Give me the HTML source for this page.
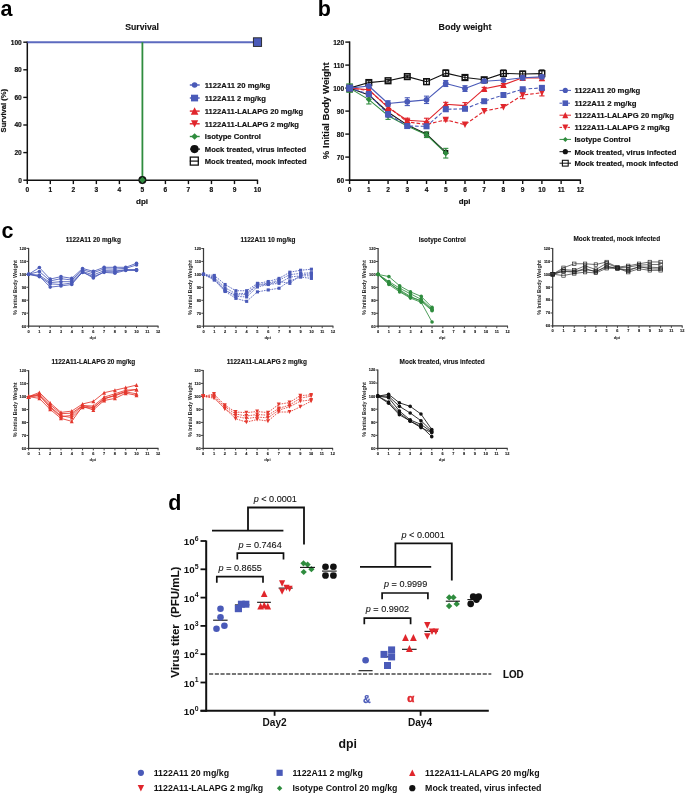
<!DOCTYPE html>
<html><head><meta charset="utf-8"><style>
html,body{margin:0;padding:0;background:#fff;}
svg{display:block;font-family:"Liberation Sans",sans-serif;will-change:transform;}
</style></head><body>
<svg width="685" height="794" viewBox="0 0 685 794">
<rect width="685" height="794" fill="#fff"/>
<text x="0.45" y="15.8" font-size="21.5" font-weight="bold" fill="#000">a</text>
<text x="317.75" y="15.8" font-size="21.5" font-weight="bold" fill="#000">b</text>
<text x="1.45" y="237.9" font-size="21.5" font-weight="bold" fill="#000">c</text>
<text x="168.35" y="510.2" font-size="21.5" font-weight="bold" fill="#000">d</text>
<text x="142.10" y="29.84" font-size="9.0" text-anchor="middle" font-weight="bold" fill="#111" stroke="#111" stroke-width="0.12" textLength="33.80" lengthAdjust="spacingAndGlyphs" style="">Survival</text>
<line x1="23.30" y1="180.20" x2="27.30" y2="180.20" stroke="#111" stroke-width="1.4" />
<text x="21.80" y="182.58" font-size="6.6" text-anchor="end" font-weight="bold" fill="#111" stroke="#111" stroke-width="0.18" style="">0</text>
<line x1="23.30" y1="152.60" x2="27.30" y2="152.60" stroke="#111" stroke-width="1.4" />
<text x="21.80" y="154.98" font-size="6.6" text-anchor="end" font-weight="bold" fill="#111" stroke="#111" stroke-width="0.18" style="">20</text>
<line x1="23.30" y1="125.00" x2="27.30" y2="125.00" stroke="#111" stroke-width="1.4" />
<text x="21.80" y="127.38" font-size="6.6" text-anchor="end" font-weight="bold" fill="#111" stroke="#111" stroke-width="0.18" style="">40</text>
<line x1="23.30" y1="97.40" x2="27.30" y2="97.40" stroke="#111" stroke-width="1.4" />
<text x="21.80" y="99.78" font-size="6.6" text-anchor="end" font-weight="bold" fill="#111" stroke="#111" stroke-width="0.18" style="">60</text>
<line x1="23.30" y1="69.80" x2="27.30" y2="69.80" stroke="#111" stroke-width="1.4" />
<text x="21.80" y="72.18" font-size="6.6" text-anchor="end" font-weight="bold" fill="#111" stroke="#111" stroke-width="0.18" style="">80</text>
<line x1="23.30" y1="42.20" x2="27.30" y2="42.20" stroke="#111" stroke-width="1.4" />
<text x="21.80" y="44.58" font-size="6.6" text-anchor="end" font-weight="bold" fill="#111" stroke="#111" stroke-width="0.18" style="">100</text>
<line x1="27.30" y1="180.20" x2="27.30" y2="184.10" stroke="#111" stroke-width="1.4" />
<text x="27.30" y="191.98" font-size="6.6" text-anchor="middle" font-weight="bold" fill="#111" stroke="#111" stroke-width="0.18" style="">0</text>
<line x1="50.32" y1="180.20" x2="50.32" y2="184.10" stroke="#111" stroke-width="1.4" />
<text x="50.32" y="191.98" font-size="6.6" text-anchor="middle" font-weight="bold" fill="#111" stroke="#111" stroke-width="0.18" style="">1</text>
<line x1="73.34" y1="180.20" x2="73.34" y2="184.10" stroke="#111" stroke-width="1.4" />
<text x="73.34" y="191.98" font-size="6.6" text-anchor="middle" font-weight="bold" fill="#111" stroke="#111" stroke-width="0.18" style="">2</text>
<line x1="96.36" y1="180.20" x2="96.36" y2="184.10" stroke="#111" stroke-width="1.4" />
<text x="96.36" y="191.98" font-size="6.6" text-anchor="middle" font-weight="bold" fill="#111" stroke="#111" stroke-width="0.18" style="">3</text>
<line x1="119.38" y1="180.20" x2="119.38" y2="184.10" stroke="#111" stroke-width="1.4" />
<text x="119.38" y="191.98" font-size="6.6" text-anchor="middle" font-weight="bold" fill="#111" stroke="#111" stroke-width="0.18" style="">4</text>
<line x1="142.40" y1="180.20" x2="142.40" y2="184.10" stroke="#111" stroke-width="1.4" />
<text x="142.40" y="191.98" font-size="6.6" text-anchor="middle" font-weight="bold" fill="#111" stroke="#111" stroke-width="0.18" style="">5</text>
<line x1="165.42" y1="180.20" x2="165.42" y2="184.10" stroke="#111" stroke-width="1.4" />
<text x="165.42" y="191.98" font-size="6.6" text-anchor="middle" font-weight="bold" fill="#111" stroke="#111" stroke-width="0.18" style="">6</text>
<line x1="188.44" y1="180.20" x2="188.44" y2="184.10" stroke="#111" stroke-width="1.4" />
<text x="188.44" y="191.98" font-size="6.6" text-anchor="middle" font-weight="bold" fill="#111" stroke="#111" stroke-width="0.18" style="">7</text>
<line x1="211.46" y1="180.20" x2="211.46" y2="184.10" stroke="#111" stroke-width="1.4" />
<text x="211.46" y="191.98" font-size="6.6" text-anchor="middle" font-weight="bold" fill="#111" stroke="#111" stroke-width="0.18" style="">8</text>
<line x1="234.48" y1="180.20" x2="234.48" y2="184.10" stroke="#111" stroke-width="1.4" />
<text x="234.48" y="191.98" font-size="6.6" text-anchor="middle" font-weight="bold" fill="#111" stroke="#111" stroke-width="0.18" style="">9</text>
<line x1="257.50" y1="180.20" x2="257.50" y2="184.10" stroke="#111" stroke-width="1.4" />
<text x="257.50" y="191.98" font-size="6.6" text-anchor="middle" font-weight="bold" fill="#111" stroke="#111" stroke-width="0.18" style="">10</text>
<text x="142.10" y="204.18" font-size="8.0" text-anchor="middle" font-weight="bold" fill="#111" stroke="#111" stroke-width="0.2" style="">dpi</text>
<text x="3.50" y="113.44" font-size="7.6" text-anchor="middle" font-weight="bold" fill="#111" transform="rotate(-90 3.50 110.70)" stroke="#111" stroke-width="0.2" style="">Survival (%)</text>
<line x1="27.30" y1="41.50" x2="27.30" y2="180.90" stroke="#111" stroke-width="1.5" />
<line x1="26.60" y1="180.20" x2="258.10" y2="180.20" stroke="#111" stroke-width="1.6" />
<line x1="27.30" y1="42.20" x2="257.50" y2="42.20" stroke="#4a5ab8" stroke-width="1.9" stroke-opacity="0.9"/>
<line x1="142.40" y1="42.20" x2="142.40" y2="180.20" stroke="#2f8c3e" stroke-width="1.8" />
<circle cx="142.40" cy="180.00" r="4.00" fill="#111"/>
<polygon points="142.40,176.80 145.60,180.00 142.40,183.20 139.20,180.00" fill="#2f8c3e"/>
<rect x="253.40" y="37.80" width="8.2" height="8.6" fill="#4a5ab8" stroke="#222" stroke-width="0.9"/>
<line x1="189.80" y1="85.00" x2="199.70" y2="85.00" stroke="#4a5ab8" stroke-width="1.4" />
<circle cx="194.60" cy="85.00" r="2.80" fill="#4a5ab8"/>
<text x="204.80" y="87.88" font-size="8.0" text-anchor="start" font-weight="bold" fill="#111" stroke="#111" stroke-width="0.18" textLength="65.40" lengthAdjust="spacingAndGlyphs" style="">1122A11 20 mg/kg</text>
<line x1="189.80" y1="98.00" x2="199.70" y2="98.00" stroke="#4a5ab8" stroke-width="1.4" />
<rect x="191.00" y="94.70" width="7.1" height="6.7" fill="#4a5ab8"/>
<text x="204.80" y="100.88" font-size="8.0" text-anchor="start" font-weight="bold" fill="#111" stroke="#111" stroke-width="0.18" textLength="61.10" lengthAdjust="spacingAndGlyphs" style="">1122A11 2 mg/kg</text>
<line x1="189.80" y1="111.10" x2="199.70" y2="111.10" stroke="#e0262c" stroke-width="1.4" />
<polygon points="194.6,107.20 198.4,114.80 190.8,114.80" fill="#e0262c"/>
<text x="204.80" y="113.98" font-size="8.0" text-anchor="start" font-weight="bold" fill="#111" stroke="#111" stroke-width="0.18" textLength="98.30" lengthAdjust="spacingAndGlyphs" style="">1122A11-LALAPG 20 mg/kg</text>
<line x1="189.80" y1="123.80" x2="199.70" y2="123.80" stroke="#e0262c" stroke-width="1.4" />
<polygon points="194.6,127.40 198.2,120.30 191.0,120.30" fill="#e0262c"/>
<text x="204.80" y="126.68" font-size="8.0" text-anchor="start" font-weight="bold" fill="#111" stroke="#111" stroke-width="0.18" textLength="94.20" lengthAdjust="spacingAndGlyphs" style="">1122A11-LALAPG 2 mg/kg</text>
<line x1="189.80" y1="136.50" x2="199.70" y2="136.50" stroke="#2f8c3e" stroke-width="1.4" />
<polygon points="194.60,133.20 197.90,136.50 194.60,139.80 191.30,136.50" fill="#2f8c3e"/>
<text x="204.80" y="139.38" font-size="8.0" text-anchor="start" font-weight="bold" fill="#111" stroke="#111" stroke-width="0.18" textLength="56.20" lengthAdjust="spacingAndGlyphs" style="">Isotype Control</text>
<line x1="190.00" y1="149.10" x2="200.00" y2="149.10" stroke="#111" stroke-width="1.2" />
<circle cx="194.50" cy="149.10" r="4.10" fill="#111"/>
<text x="204.80" y="151.98" font-size="8.0" text-anchor="start" font-weight="bold" fill="#111" stroke="#111" stroke-width="0.18" textLength="101.30" lengthAdjust="spacingAndGlyphs" style="">Mock treated, virus infected</text>
<rect x="190.30" y="157.10" width="8.0" height="8.0" fill="#fff" stroke="#111" stroke-width="1.3"/>
<line x1="189.80" y1="161.10" x2="198.80" y2="161.10" stroke="#111" stroke-width="1.2" />
<text x="204.80" y="163.98" font-size="8.0" text-anchor="start" font-weight="bold" fill="#111" stroke="#111" stroke-width="0.18" textLength="101.90" lengthAdjust="spacingAndGlyphs" style="">Mock treated, mock infected</text>
<text x="465.00" y="30.20" font-size="8.9" text-anchor="middle" font-weight="bold" fill="#111" stroke="#111" stroke-width="0.12" style="">Body weight</text>
<line x1="345.30" y1="180.10" x2="349.60" y2="180.10" stroke="#111" stroke-width="1.4" />
<text x="344.20" y="182.88" font-size="6.6" text-anchor="end" font-weight="bold" fill="#111" stroke="#111" stroke-width="0.18" style="">60</text>
<line x1="345.30" y1="157.10" x2="349.60" y2="157.10" stroke="#111" stroke-width="1.4" />
<text x="344.20" y="159.88" font-size="6.6" text-anchor="end" font-weight="bold" fill="#111" stroke="#111" stroke-width="0.18" style="">70</text>
<line x1="345.30" y1="134.10" x2="349.60" y2="134.10" stroke="#111" stroke-width="1.4" />
<text x="344.20" y="136.88" font-size="6.6" text-anchor="end" font-weight="bold" fill="#111" stroke="#111" stroke-width="0.18" style="">80</text>
<line x1="345.30" y1="111.10" x2="349.60" y2="111.10" stroke="#111" stroke-width="1.4" />
<text x="344.20" y="113.88" font-size="6.6" text-anchor="end" font-weight="bold" fill="#111" stroke="#111" stroke-width="0.18" style="">90</text>
<line x1="345.30" y1="88.10" x2="349.60" y2="88.10" stroke="#111" stroke-width="1.4" />
<text x="344.20" y="90.88" font-size="6.6" text-anchor="end" font-weight="bold" fill="#111" stroke="#111" stroke-width="0.18" style="">100</text>
<line x1="345.30" y1="65.10" x2="349.60" y2="65.10" stroke="#111" stroke-width="1.4" />
<text x="344.20" y="67.88" font-size="6.6" text-anchor="end" font-weight="bold" fill="#111" stroke="#111" stroke-width="0.18" style="">110</text>
<line x1="345.30" y1="42.10" x2="349.60" y2="42.10" stroke="#111" stroke-width="1.4" />
<text x="344.20" y="44.88" font-size="6.6" text-anchor="end" font-weight="bold" fill="#111" stroke="#111" stroke-width="0.18" style="">120</text>
<line x1="349.60" y1="180.10" x2="349.60" y2="184.00" stroke="#111" stroke-width="1.4" />
<text x="349.60" y="191.88" font-size="6.6" text-anchor="middle" font-weight="bold" fill="#111" stroke="#111" stroke-width="0.18" style="">0</text>
<line x1="368.83" y1="180.10" x2="368.83" y2="184.00" stroke="#111" stroke-width="1.4" />
<text x="368.83" y="191.88" font-size="6.6" text-anchor="middle" font-weight="bold" fill="#111" stroke="#111" stroke-width="0.18" style="">1</text>
<line x1="388.06" y1="180.10" x2="388.06" y2="184.00" stroke="#111" stroke-width="1.4" />
<text x="388.06" y="191.88" font-size="6.6" text-anchor="middle" font-weight="bold" fill="#111" stroke="#111" stroke-width="0.18" style="">2</text>
<line x1="407.29" y1="180.10" x2="407.29" y2="184.00" stroke="#111" stroke-width="1.4" />
<text x="407.29" y="191.88" font-size="6.6" text-anchor="middle" font-weight="bold" fill="#111" stroke="#111" stroke-width="0.18" style="">3</text>
<line x1="426.52" y1="180.10" x2="426.52" y2="184.00" stroke="#111" stroke-width="1.4" />
<text x="426.52" y="191.88" font-size="6.6" text-anchor="middle" font-weight="bold" fill="#111" stroke="#111" stroke-width="0.18" style="">4</text>
<line x1="445.75" y1="180.10" x2="445.75" y2="184.00" stroke="#111" stroke-width="1.4" />
<text x="445.75" y="191.88" font-size="6.6" text-anchor="middle" font-weight="bold" fill="#111" stroke="#111" stroke-width="0.18" style="">5</text>
<line x1="464.98" y1="180.10" x2="464.98" y2="184.00" stroke="#111" stroke-width="1.4" />
<text x="464.98" y="191.88" font-size="6.6" text-anchor="middle" font-weight="bold" fill="#111" stroke="#111" stroke-width="0.18" style="">6</text>
<line x1="484.21" y1="180.10" x2="484.21" y2="184.00" stroke="#111" stroke-width="1.4" />
<text x="484.21" y="191.88" font-size="6.6" text-anchor="middle" font-weight="bold" fill="#111" stroke="#111" stroke-width="0.18" style="">7</text>
<line x1="503.44" y1="180.10" x2="503.44" y2="184.00" stroke="#111" stroke-width="1.4" />
<text x="503.44" y="191.88" font-size="6.6" text-anchor="middle" font-weight="bold" fill="#111" stroke="#111" stroke-width="0.18" style="">8</text>
<line x1="522.67" y1="180.10" x2="522.67" y2="184.00" stroke="#111" stroke-width="1.4" />
<text x="522.67" y="191.88" font-size="6.6" text-anchor="middle" font-weight="bold" fill="#111" stroke="#111" stroke-width="0.18" style="">9</text>
<line x1="541.90" y1="180.10" x2="541.90" y2="184.00" stroke="#111" stroke-width="1.4" />
<text x="541.90" y="191.88" font-size="6.6" text-anchor="middle" font-weight="bold" fill="#111" stroke="#111" stroke-width="0.18" style="">10</text>
<line x1="561.13" y1="180.10" x2="561.13" y2="184.00" stroke="#111" stroke-width="1.4" />
<text x="561.13" y="191.88" font-size="6.6" text-anchor="middle" font-weight="bold" fill="#111" stroke="#111" stroke-width="0.18" style="">11</text>
<line x1="580.36" y1="180.10" x2="580.36" y2="184.00" stroke="#111" stroke-width="1.4" />
<text x="580.36" y="191.88" font-size="6.6" text-anchor="middle" font-weight="bold" fill="#111" stroke="#111" stroke-width="0.18" style="">12</text>
<text x="464.60" y="204.14" font-size="7.9" text-anchor="middle" font-weight="bold" fill="#111" stroke="#111" stroke-width="0.2" style="">dpi</text>
<text x="325.60" y="114.14" font-size="9.55" text-anchor="middle" font-weight="bold" fill="#111" transform="rotate(-90 325.60 110.70)" stroke="#111" stroke-width="0.12" style="">% Initial Body Weight</text>
<line x1="349.60" y1="41.40" x2="349.60" y2="180.80" stroke="#111" stroke-width="1.5" />
<line x1="348.90" y1="180.10" x2="580.96" y2="180.10" stroke="#111" stroke-width="1.6" />
<polyline points="349.60,88.10 368.83,82.58 388.06,80.74 407.29,76.60 426.52,81.66 445.75,73.15 464.98,77.52 484.21,79.82 503.44,73.38 522.67,74.07 541.90,73.61" fill="none" stroke="#111" stroke-width="1.1" stroke-linejoin="round"/>
<rect x="346.80" y="85.20" width="5.6" height="5.8" fill="none" stroke="#111" stroke-width="1.45"/>
<line x1="368.83" y1="80.74" x2="368.83" y2="84.42" stroke="#111" stroke-width="1.1" />
<line x1="366.23" y1="80.74" x2="371.43" y2="80.74" stroke="#111" stroke-width="1.1" />
<line x1="366.23" y1="84.42" x2="371.43" y2="84.42" stroke="#111" stroke-width="1.1" />
<rect x="366.03" y="79.68" width="5.6" height="5.8" fill="none" stroke="#111" stroke-width="1.45"/>
<line x1="388.06" y1="79.36" x2="388.06" y2="82.12" stroke="#111" stroke-width="1.1" />
<line x1="385.46" y1="79.36" x2="390.66" y2="79.36" stroke="#111" stroke-width="1.1" />
<line x1="385.46" y1="82.12" x2="390.66" y2="82.12" stroke="#111" stroke-width="1.1" />
<rect x="385.26" y="77.84" width="5.6" height="5.8" fill="none" stroke="#111" stroke-width="1.45"/>
<line x1="407.29" y1="75.22" x2="407.29" y2="77.98" stroke="#111" stroke-width="1.1" />
<line x1="404.69" y1="75.22" x2="409.89" y2="75.22" stroke="#111" stroke-width="1.1" />
<line x1="404.69" y1="77.98" x2="409.89" y2="77.98" stroke="#111" stroke-width="1.1" />
<rect x="404.49" y="73.70" width="5.6" height="5.8" fill="none" stroke="#111" stroke-width="1.45"/>
<line x1="426.52" y1="78.78" x2="426.52" y2="84.53" stroke="#111" stroke-width="1.1" />
<line x1="423.92" y1="78.78" x2="429.12" y2="78.78" stroke="#111" stroke-width="1.1" />
<line x1="423.92" y1="84.53" x2="429.12" y2="84.53" stroke="#111" stroke-width="1.1" />
<rect x="423.72" y="78.76" width="5.6" height="5.8" fill="none" stroke="#111" stroke-width="1.45"/>
<line x1="445.75" y1="69.93" x2="445.75" y2="76.37" stroke="#111" stroke-width="1.1" />
<line x1="443.15" y1="69.93" x2="448.35" y2="69.93" stroke="#111" stroke-width="1.1" />
<line x1="443.15" y1="76.37" x2="448.35" y2="76.37" stroke="#111" stroke-width="1.1" />
<rect x="442.95" y="70.25" width="5.6" height="5.8" fill="none" stroke="#111" stroke-width="1.45"/>
<line x1="464.98" y1="75.45" x2="464.98" y2="79.59" stroke="#111" stroke-width="1.1" />
<line x1="462.38" y1="75.45" x2="467.58" y2="75.45" stroke="#111" stroke-width="1.1" />
<line x1="462.38" y1="79.59" x2="467.58" y2="79.59" stroke="#111" stroke-width="1.1" />
<rect x="462.18" y="74.62" width="5.6" height="5.8" fill="none" stroke="#111" stroke-width="1.45"/>
<line x1="484.21" y1="77.52" x2="484.21" y2="82.12" stroke="#111" stroke-width="1.1" />
<line x1="481.61" y1="77.52" x2="486.81" y2="77.52" stroke="#111" stroke-width="1.1" />
<line x1="481.61" y1="82.12" x2="486.81" y2="82.12" stroke="#111" stroke-width="1.1" />
<rect x="481.41" y="76.92" width="5.6" height="5.8" fill="none" stroke="#111" stroke-width="1.45"/>
<line x1="503.44" y1="70.04" x2="503.44" y2="76.71" stroke="#111" stroke-width="1.1" />
<line x1="500.84" y1="70.04" x2="506.04" y2="70.04" stroke="#111" stroke-width="1.1" />
<line x1="500.84" y1="76.71" x2="506.04" y2="76.71" stroke="#111" stroke-width="1.1" />
<rect x="500.64" y="70.48" width="5.6" height="5.8" fill="none" stroke="#111" stroke-width="1.45"/>
<line x1="522.67" y1="71.20" x2="522.67" y2="76.95" stroke="#111" stroke-width="1.1" />
<line x1="520.07" y1="71.20" x2="525.27" y2="71.20" stroke="#111" stroke-width="1.1" />
<line x1="520.07" y1="76.95" x2="525.27" y2="76.95" stroke="#111" stroke-width="1.1" />
<rect x="519.87" y="71.17" width="5.6" height="5.8" fill="none" stroke="#111" stroke-width="1.45"/>
<line x1="541.90" y1="69.93" x2="541.90" y2="77.29" stroke="#111" stroke-width="1.1" />
<line x1="539.30" y1="69.93" x2="544.50" y2="69.93" stroke="#111" stroke-width="1.1" />
<line x1="539.30" y1="77.29" x2="544.50" y2="77.29" stroke="#111" stroke-width="1.1" />
<rect x="539.10" y="70.71" width="5.6" height="5.8" fill="none" stroke="#111" stroke-width="1.45"/>
<polyline points="349.60,88.10 368.83,95.00 388.06,112.25 407.29,124.90 426.52,134.10 445.75,152.04" fill="none" stroke="#111" stroke-width="1.1" stroke-linejoin="round"/>
<circle cx="349.60" cy="88.10" r="2.60" fill="#111"/>
<line x1="368.83" y1="93.39" x2="368.83" y2="96.61" stroke="#111" stroke-width="1.1" />
<line x1="366.23" y1="93.39" x2="371.43" y2="93.39" stroke="#111" stroke-width="1.1" />
<line x1="366.23" y1="96.61" x2="371.43" y2="96.61" stroke="#111" stroke-width="1.1" />
<circle cx="368.83" cy="95.00" r="2.60" fill="#111"/>
<line x1="388.06" y1="110.41" x2="388.06" y2="114.09" stroke="#111" stroke-width="1.1" />
<line x1="385.46" y1="110.41" x2="390.66" y2="110.41" stroke="#111" stroke-width="1.1" />
<line x1="385.46" y1="114.09" x2="390.66" y2="114.09" stroke="#111" stroke-width="1.1" />
<circle cx="388.06" cy="112.25" r="2.60" fill="#111"/>
<line x1="407.29" y1="123.52" x2="407.29" y2="126.28" stroke="#111" stroke-width="1.1" />
<line x1="404.69" y1="123.52" x2="409.89" y2="123.52" stroke="#111" stroke-width="1.1" />
<line x1="404.69" y1="126.28" x2="409.89" y2="126.28" stroke="#111" stroke-width="1.1" />
<circle cx="407.29" cy="124.90" r="2.60" fill="#111"/>
<line x1="426.52" y1="132.26" x2="426.52" y2="135.94" stroke="#111" stroke-width="1.1" />
<line x1="423.92" y1="132.26" x2="429.12" y2="132.26" stroke="#111" stroke-width="1.1" />
<line x1="423.92" y1="135.94" x2="429.12" y2="135.94" stroke="#111" stroke-width="1.1" />
<circle cx="426.52" cy="134.10" r="2.60" fill="#111"/>
<line x1="445.75" y1="150.66" x2="445.75" y2="153.42" stroke="#111" stroke-width="1.1" />
<line x1="443.15" y1="150.66" x2="448.35" y2="150.66" stroke="#111" stroke-width="1.1" />
<line x1="443.15" y1="153.42" x2="448.35" y2="153.42" stroke="#111" stroke-width="1.1" />
<circle cx="445.75" cy="152.04" r="2.60" fill="#111"/>
<polyline points="349.60,88.10 368.83,99.60 388.06,115.70 407.29,126.05 426.52,134.79 445.75,153.19" fill="none" stroke="#2f8c3e" stroke-width="1.1" stroke-linejoin="round"/>
<polygon points="349.60,85.10 352.60,88.10 349.60,91.10 346.60,88.10" fill="#2f8c3e"/>
<line x1="368.83" y1="95.23" x2="368.83" y2="103.97" stroke="#2f8c3e" stroke-width="1.1" />
<line x1="366.23" y1="95.23" x2="371.43" y2="95.23" stroke="#2f8c3e" stroke-width="1.1" />
<line x1="366.23" y1="103.97" x2="371.43" y2="103.97" stroke="#2f8c3e" stroke-width="1.1" />
<polygon points="368.83,96.60 371.83,99.60 368.83,102.60 365.83,99.60" fill="#2f8c3e"/>
<line x1="388.06" y1="112.02" x2="388.06" y2="119.38" stroke="#2f8c3e" stroke-width="1.1" />
<line x1="385.46" y1="112.02" x2="390.66" y2="112.02" stroke="#2f8c3e" stroke-width="1.1" />
<line x1="385.46" y1="119.38" x2="390.66" y2="119.38" stroke="#2f8c3e" stroke-width="1.1" />
<polygon points="388.06,112.70 391.06,115.70 388.06,118.70 385.06,115.70" fill="#2f8c3e"/>
<line x1="407.29" y1="123.98" x2="407.29" y2="128.12" stroke="#2f8c3e" stroke-width="1.1" />
<line x1="404.69" y1="123.98" x2="409.89" y2="123.98" stroke="#2f8c3e" stroke-width="1.1" />
<line x1="404.69" y1="128.12" x2="409.89" y2="128.12" stroke="#2f8c3e" stroke-width="1.1" />
<polygon points="407.29,123.05 410.29,126.05 407.29,129.05 404.29,126.05" fill="#2f8c3e"/>
<line x1="426.52" y1="132.03" x2="426.52" y2="137.55" stroke="#2f8c3e" stroke-width="1.1" />
<line x1="423.92" y1="132.03" x2="429.12" y2="132.03" stroke="#2f8c3e" stroke-width="1.1" />
<line x1="423.92" y1="137.55" x2="429.12" y2="137.55" stroke="#2f8c3e" stroke-width="1.1" />
<polygon points="426.52,131.79 429.52,134.79 426.52,137.79 423.52,134.79" fill="#2f8c3e"/>
<line x1="445.75" y1="148.36" x2="445.75" y2="158.02" stroke="#2f8c3e" stroke-width="1.1" />
<line x1="443.15" y1="148.36" x2="448.35" y2="148.36" stroke="#2f8c3e" stroke-width="1.1" />
<line x1="443.15" y1="158.02" x2="448.35" y2="158.02" stroke="#2f8c3e" stroke-width="1.1" />
<polygon points="445.75,150.19 448.75,153.19 445.75,156.19 442.75,153.19" fill="#2f8c3e"/>
<polyline points="349.60,88.10 368.83,90.40 388.06,106.50 407.29,121.91 426.52,124.44 445.75,119.84 464.98,124.67 484.21,111.10 503.44,107.19 522.67,95.00 541.90,92.70" fill="none" stroke="#e0262c" stroke-width="1.1" stroke-dasharray="3.6,2" stroke-linejoin="round"/>
<polygon points="349.60,91.46 352.80,84.91 346.40,84.91" fill="#e0262c"/>
<line x1="368.83" y1="89.02" x2="368.83" y2="91.78" stroke="#e0262c" stroke-width="1.1" />
<line x1="366.23" y1="89.02" x2="371.43" y2="89.02" stroke="#e0262c" stroke-width="1.1" />
<line x1="366.23" y1="91.78" x2="371.43" y2="91.78" stroke="#e0262c" stroke-width="1.1" />
<polygon points="368.83,93.76 372.03,87.21 365.63,87.21" fill="#e0262c"/>
<line x1="388.06" y1="103.74" x2="388.06" y2="109.26" stroke="#e0262c" stroke-width="1.1" />
<line x1="385.46" y1="103.74" x2="390.66" y2="103.74" stroke="#e0262c" stroke-width="1.1" />
<line x1="385.46" y1="109.26" x2="390.66" y2="109.26" stroke="#e0262c" stroke-width="1.1" />
<polygon points="388.06,109.86 391.26,103.31 384.86,103.31" fill="#e0262c"/>
<line x1="407.29" y1="120.07" x2="407.29" y2="123.75" stroke="#e0262c" stroke-width="1.1" />
<line x1="404.69" y1="120.07" x2="409.89" y2="120.07" stroke="#e0262c" stroke-width="1.1" />
<line x1="404.69" y1="123.75" x2="409.89" y2="123.75" stroke="#e0262c" stroke-width="1.1" />
<polygon points="407.29,125.27 410.49,118.72 404.09,118.72" fill="#e0262c"/>
<line x1="426.52" y1="122.60" x2="426.52" y2="126.28" stroke="#e0262c" stroke-width="1.1" />
<line x1="423.92" y1="122.60" x2="429.12" y2="122.60" stroke="#e0262c" stroke-width="1.1" />
<line x1="423.92" y1="126.28" x2="429.12" y2="126.28" stroke="#e0262c" stroke-width="1.1" />
<polygon points="426.52,127.80 429.72,121.25 423.32,121.25" fill="#e0262c"/>
<line x1="445.75" y1="118.69" x2="445.75" y2="120.99" stroke="#e0262c" stroke-width="1.1" />
<line x1="443.15" y1="118.69" x2="448.35" y2="118.69" stroke="#e0262c" stroke-width="1.1" />
<line x1="443.15" y1="120.99" x2="448.35" y2="120.99" stroke="#e0262c" stroke-width="1.1" />
<polygon points="445.75,123.20 448.95,116.65 442.55,116.65" fill="#e0262c"/>
<polygon points="464.98,128.03 468.18,121.48 461.78,121.48" fill="#e0262c"/>
<polygon points="484.21,114.46 487.41,107.91 481.01,107.91" fill="#e0262c"/>
<polygon points="503.44,110.55 506.64,104.00 500.24,104.00" fill="#e0262c"/>
<line x1="522.67" y1="91.32" x2="522.67" y2="98.68" stroke="#e0262c" stroke-width="1.1" />
<line x1="520.07" y1="91.32" x2="525.27" y2="91.32" stroke="#e0262c" stroke-width="1.1" />
<line x1="520.07" y1="98.68" x2="525.27" y2="98.68" stroke="#e0262c" stroke-width="1.1" />
<polygon points="522.67,98.36 525.87,91.81 519.47,91.81" fill="#e0262c"/>
<line x1="541.90" y1="89.48" x2="541.90" y2="95.92" stroke="#e0262c" stroke-width="1.1" />
<line x1="539.30" y1="89.48" x2="544.50" y2="89.48" stroke="#e0262c" stroke-width="1.1" />
<line x1="539.30" y1="95.92" x2="544.50" y2="95.92" stroke="#e0262c" stroke-width="1.1" />
<polygon points="541.90,96.06 545.10,89.51 538.70,89.51" fill="#e0262c"/>
<polyline points="349.60,88.10 368.83,89.71 388.06,107.65 407.29,120.30 426.52,121.45 445.75,104.20 464.98,105.58 484.21,88.79 503.44,84.88 522.67,77.75 541.90,77.98" fill="none" stroke="#e0262c" stroke-width="1.1" stroke-linejoin="round"/>
<polygon points="349.60,84.74 352.80,91.29 346.40,91.29" fill="#e0262c"/>
<line x1="368.83" y1="88.33" x2="368.83" y2="91.09" stroke="#e0262c" stroke-width="1.1" />
<line x1="366.23" y1="88.33" x2="371.43" y2="88.33" stroke="#e0262c" stroke-width="1.1" />
<line x1="366.23" y1="91.09" x2="371.43" y2="91.09" stroke="#e0262c" stroke-width="1.1" />
<polygon points="368.83,86.35 372.03,92.90 365.63,92.90" fill="#e0262c"/>
<line x1="388.06" y1="104.89" x2="388.06" y2="110.41" stroke="#e0262c" stroke-width="1.1" />
<line x1="385.46" y1="104.89" x2="390.66" y2="104.89" stroke="#e0262c" stroke-width="1.1" />
<line x1="385.46" y1="110.41" x2="390.66" y2="110.41" stroke="#e0262c" stroke-width="1.1" />
<polygon points="388.06,104.29 391.26,110.84 384.86,110.84" fill="#e0262c"/>
<line x1="407.29" y1="118.23" x2="407.29" y2="122.37" stroke="#e0262c" stroke-width="1.1" />
<line x1="404.69" y1="118.23" x2="409.89" y2="118.23" stroke="#e0262c" stroke-width="1.1" />
<line x1="404.69" y1="122.37" x2="409.89" y2="122.37" stroke="#e0262c" stroke-width="1.1" />
<polygon points="407.29,116.94 410.49,123.49 404.09,123.49" fill="#e0262c"/>
<line x1="426.52" y1="118.23" x2="426.52" y2="124.67" stroke="#e0262c" stroke-width="1.1" />
<line x1="423.92" y1="118.23" x2="429.12" y2="118.23" stroke="#e0262c" stroke-width="1.1" />
<line x1="423.92" y1="124.67" x2="429.12" y2="124.67" stroke="#e0262c" stroke-width="1.1" />
<polygon points="426.52,118.09 429.72,124.64 423.32,124.64" fill="#e0262c"/>
<line x1="445.75" y1="102.36" x2="445.75" y2="106.04" stroke="#e0262c" stroke-width="1.1" />
<line x1="443.15" y1="102.36" x2="448.35" y2="102.36" stroke="#e0262c" stroke-width="1.1" />
<line x1="443.15" y1="106.04" x2="448.35" y2="106.04" stroke="#e0262c" stroke-width="1.1" />
<polygon points="445.75,100.84 448.95,107.39 442.55,107.39" fill="#e0262c"/>
<line x1="464.98" y1="102.59" x2="464.98" y2="108.57" stroke="#e0262c" stroke-width="1.1" />
<line x1="462.38" y1="102.59" x2="467.58" y2="102.59" stroke="#e0262c" stroke-width="1.1" />
<line x1="462.38" y1="108.57" x2="467.58" y2="108.57" stroke="#e0262c" stroke-width="1.1" />
<polygon points="464.98,102.22 468.18,108.77 461.78,108.77" fill="#e0262c"/>
<line x1="484.21" y1="87.41" x2="484.21" y2="90.17" stroke="#e0262c" stroke-width="1.1" />
<line x1="481.61" y1="87.41" x2="486.81" y2="87.41" stroke="#e0262c" stroke-width="1.1" />
<line x1="481.61" y1="90.17" x2="486.81" y2="90.17" stroke="#e0262c" stroke-width="1.1" />
<polygon points="484.21,85.43 487.41,91.98 481.01,91.98" fill="#e0262c"/>
<line x1="503.44" y1="83.50" x2="503.44" y2="86.26" stroke="#e0262c" stroke-width="1.1" />
<line x1="500.84" y1="83.50" x2="506.04" y2="83.50" stroke="#e0262c" stroke-width="1.1" />
<line x1="500.84" y1="86.26" x2="506.04" y2="86.26" stroke="#e0262c" stroke-width="1.1" />
<polygon points="503.44,81.52 506.64,88.07 500.24,88.07" fill="#e0262c"/>
<line x1="522.67" y1="75.91" x2="522.67" y2="79.59" stroke="#e0262c" stroke-width="1.1" />
<line x1="520.07" y1="75.91" x2="525.27" y2="75.91" stroke="#e0262c" stroke-width="1.1" />
<line x1="520.07" y1="79.59" x2="525.27" y2="79.59" stroke="#e0262c" stroke-width="1.1" />
<polygon points="522.67,74.39 525.87,80.94 519.47,80.94" fill="#e0262c"/>
<line x1="541.90" y1="75.45" x2="541.90" y2="80.51" stroke="#e0262c" stroke-width="1.1" />
<line x1="539.30" y1="75.45" x2="544.50" y2="75.45" stroke="#e0262c" stroke-width="1.1" />
<line x1="539.30" y1="80.51" x2="544.50" y2="80.51" stroke="#e0262c" stroke-width="1.1" />
<polygon points="541.90,74.62 545.10,81.17 538.70,81.17" fill="#e0262c"/>
<polyline points="349.60,88.10 368.83,94.08 388.06,114.32 407.29,126.05 426.52,126.28 445.75,109.26 464.98,108.80 484.21,101.21 503.44,95.00 522.67,89.25 541.90,87.87" fill="none" stroke="#4a5ab8" stroke-width="1.1" stroke-dasharray="3.6,2" stroke-linejoin="round"/>
<rect x="346.60" y="85.10" width="6.00" height="6.00" fill="#4a5ab8"/>
<line x1="368.83" y1="91.78" x2="368.83" y2="96.38" stroke="#4a5ab8" stroke-width="1.1" />
<line x1="366.23" y1="91.78" x2="371.43" y2="91.78" stroke="#4a5ab8" stroke-width="1.1" />
<line x1="366.23" y1="96.38" x2="371.43" y2="96.38" stroke="#4a5ab8" stroke-width="1.1" />
<rect x="365.83" y="91.08" width="6.00" height="6.00" fill="#4a5ab8"/>
<line x1="388.06" y1="111.56" x2="388.06" y2="117.08" stroke="#4a5ab8" stroke-width="1.1" />
<line x1="385.46" y1="111.56" x2="390.66" y2="111.56" stroke="#4a5ab8" stroke-width="1.1" />
<line x1="385.46" y1="117.08" x2="390.66" y2="117.08" stroke="#4a5ab8" stroke-width="1.1" />
<rect x="385.06" y="111.32" width="6.00" height="6.00" fill="#4a5ab8"/>
<line x1="407.29" y1="124.21" x2="407.29" y2="127.89" stroke="#4a5ab8" stroke-width="1.1" />
<line x1="404.69" y1="124.21" x2="409.89" y2="124.21" stroke="#4a5ab8" stroke-width="1.1" />
<line x1="404.69" y1="127.89" x2="409.89" y2="127.89" stroke="#4a5ab8" stroke-width="1.1" />
<rect x="404.29" y="123.05" width="6.00" height="6.00" fill="#4a5ab8"/>
<line x1="426.52" y1="124.44" x2="426.52" y2="128.12" stroke="#4a5ab8" stroke-width="1.1" />
<line x1="423.92" y1="124.44" x2="429.12" y2="124.44" stroke="#4a5ab8" stroke-width="1.1" />
<line x1="423.92" y1="128.12" x2="429.12" y2="128.12" stroke="#4a5ab8" stroke-width="1.1" />
<rect x="423.52" y="123.28" width="6.00" height="6.00" fill="#4a5ab8"/>
<line x1="445.75" y1="107.19" x2="445.75" y2="111.33" stroke="#4a5ab8" stroke-width="1.1" />
<line x1="443.15" y1="107.19" x2="448.35" y2="107.19" stroke="#4a5ab8" stroke-width="1.1" />
<line x1="443.15" y1="111.33" x2="448.35" y2="111.33" stroke="#4a5ab8" stroke-width="1.1" />
<rect x="442.75" y="106.26" width="6.00" height="6.00" fill="#4a5ab8"/>
<line x1="464.98" y1="107.19" x2="464.98" y2="110.41" stroke="#4a5ab8" stroke-width="1.1" />
<line x1="462.38" y1="107.19" x2="467.58" y2="107.19" stroke="#4a5ab8" stroke-width="1.1" />
<line x1="462.38" y1="110.41" x2="467.58" y2="110.41" stroke="#4a5ab8" stroke-width="1.1" />
<rect x="461.98" y="105.80" width="6.00" height="6.00" fill="#4a5ab8"/>
<line x1="484.21" y1="99.83" x2="484.21" y2="102.59" stroke="#4a5ab8" stroke-width="1.1" />
<line x1="481.61" y1="99.83" x2="486.81" y2="99.83" stroke="#4a5ab8" stroke-width="1.1" />
<line x1="481.61" y1="102.59" x2="486.81" y2="102.59" stroke="#4a5ab8" stroke-width="1.1" />
<rect x="481.21" y="98.21" width="6.00" height="6.00" fill="#4a5ab8"/>
<line x1="503.44" y1="93.62" x2="503.44" y2="96.38" stroke="#4a5ab8" stroke-width="1.1" />
<line x1="500.84" y1="93.62" x2="506.04" y2="93.62" stroke="#4a5ab8" stroke-width="1.1" />
<line x1="500.84" y1="96.38" x2="506.04" y2="96.38" stroke="#4a5ab8" stroke-width="1.1" />
<rect x="500.44" y="92.00" width="6.00" height="6.00" fill="#4a5ab8"/>
<line x1="522.67" y1="87.41" x2="522.67" y2="91.09" stroke="#4a5ab8" stroke-width="1.1" />
<line x1="520.07" y1="87.41" x2="525.27" y2="87.41" stroke="#4a5ab8" stroke-width="1.1" />
<line x1="520.07" y1="91.09" x2="525.27" y2="91.09" stroke="#4a5ab8" stroke-width="1.1" />
<rect x="519.67" y="86.25" width="6.00" height="6.00" fill="#4a5ab8"/>
<line x1="541.90" y1="86.26" x2="541.90" y2="89.48" stroke="#4a5ab8" stroke-width="1.1" />
<line x1="539.30" y1="86.26" x2="544.50" y2="86.26" stroke="#4a5ab8" stroke-width="1.1" />
<line x1="539.30" y1="89.48" x2="544.50" y2="89.48" stroke="#4a5ab8" stroke-width="1.1" />
<rect x="538.90" y="84.87" width="6.00" height="6.00" fill="#4a5ab8"/>
<polyline points="349.60,88.10 368.83,86.03 388.06,103.51 407.29,101.67 426.52,99.83 445.75,83.50 464.98,88.56 484.21,81.20 503.44,80.05 522.67,77.75 541.90,76.83" fill="none" stroke="#4a5ab8" stroke-width="1.1" stroke-linejoin="round"/>
<circle cx="349.60" cy="88.10" r="2.90" fill="#4a5ab8"/>
<line x1="368.83" y1="84.65" x2="368.83" y2="87.41" stroke="#4a5ab8" stroke-width="1.1" />
<line x1="366.23" y1="84.65" x2="371.43" y2="84.65" stroke="#4a5ab8" stroke-width="1.1" />
<line x1="366.23" y1="87.41" x2="371.43" y2="87.41" stroke="#4a5ab8" stroke-width="1.1" />
<circle cx="368.83" cy="86.03" r="2.90" fill="#4a5ab8"/>
<line x1="388.06" y1="100.75" x2="388.06" y2="106.27" stroke="#4a5ab8" stroke-width="1.1" />
<line x1="385.46" y1="100.75" x2="390.66" y2="100.75" stroke="#4a5ab8" stroke-width="1.1" />
<line x1="385.46" y1="106.27" x2="390.66" y2="106.27" stroke="#4a5ab8" stroke-width="1.1" />
<circle cx="388.06" cy="103.51" r="2.90" fill="#4a5ab8"/>
<line x1="407.29" y1="97.76" x2="407.29" y2="105.58" stroke="#4a5ab8" stroke-width="1.1" />
<line x1="404.69" y1="97.76" x2="409.89" y2="97.76" stroke="#4a5ab8" stroke-width="1.1" />
<line x1="404.69" y1="105.58" x2="409.89" y2="105.58" stroke="#4a5ab8" stroke-width="1.1" />
<circle cx="407.29" cy="101.67" r="2.90" fill="#4a5ab8"/>
<line x1="426.52" y1="96.15" x2="426.52" y2="103.51" stroke="#4a5ab8" stroke-width="1.1" />
<line x1="423.92" y1="96.15" x2="429.12" y2="96.15" stroke="#4a5ab8" stroke-width="1.1" />
<line x1="423.92" y1="103.51" x2="429.12" y2="103.51" stroke="#4a5ab8" stroke-width="1.1" />
<circle cx="426.52" cy="99.83" r="2.90" fill="#4a5ab8"/>
<line x1="445.75" y1="80.51" x2="445.75" y2="86.49" stroke="#4a5ab8" stroke-width="1.1" />
<line x1="443.15" y1="80.51" x2="448.35" y2="80.51" stroke="#4a5ab8" stroke-width="1.1" />
<line x1="443.15" y1="86.49" x2="448.35" y2="86.49" stroke="#4a5ab8" stroke-width="1.1" />
<circle cx="445.75" cy="83.50" r="2.90" fill="#4a5ab8"/>
<line x1="464.98" y1="85.69" x2="464.98" y2="91.44" stroke="#4a5ab8" stroke-width="1.1" />
<line x1="462.38" y1="85.69" x2="467.58" y2="85.69" stroke="#4a5ab8" stroke-width="1.1" />
<line x1="462.38" y1="91.44" x2="467.58" y2="91.44" stroke="#4a5ab8" stroke-width="1.1" />
<circle cx="464.98" cy="88.56" r="2.90" fill="#4a5ab8"/>
<line x1="484.21" y1="79.82" x2="484.21" y2="82.58" stroke="#4a5ab8" stroke-width="1.1" />
<line x1="481.61" y1="79.82" x2="486.81" y2="79.82" stroke="#4a5ab8" stroke-width="1.1" />
<line x1="481.61" y1="82.58" x2="486.81" y2="82.58" stroke="#4a5ab8" stroke-width="1.1" />
<circle cx="484.21" cy="81.20" r="2.90" fill="#4a5ab8"/>
<line x1="503.44" y1="78.67" x2="503.44" y2="81.43" stroke="#4a5ab8" stroke-width="1.1" />
<line x1="500.84" y1="78.67" x2="506.04" y2="78.67" stroke="#4a5ab8" stroke-width="1.1" />
<line x1="500.84" y1="81.43" x2="506.04" y2="81.43" stroke="#4a5ab8" stroke-width="1.1" />
<circle cx="503.44" cy="80.05" r="2.90" fill="#4a5ab8"/>
<line x1="522.67" y1="75.91" x2="522.67" y2="79.59" stroke="#4a5ab8" stroke-width="1.1" />
<line x1="520.07" y1="75.91" x2="525.27" y2="75.91" stroke="#4a5ab8" stroke-width="1.1" />
<line x1="520.07" y1="79.59" x2="525.27" y2="79.59" stroke="#4a5ab8" stroke-width="1.1" />
<circle cx="522.67" cy="77.75" r="2.90" fill="#4a5ab8"/>
<line x1="541.90" y1="74.99" x2="541.90" y2="78.67" stroke="#4a5ab8" stroke-width="1.1" />
<line x1="539.30" y1="74.99" x2="544.50" y2="74.99" stroke="#4a5ab8" stroke-width="1.1" />
<line x1="539.30" y1="78.67" x2="544.50" y2="78.67" stroke="#4a5ab8" stroke-width="1.1" />
<circle cx="541.90" cy="76.83" r="2.90" fill="#4a5ab8"/>
<line x1="346.30" y1="83.90" x2="352.90" y2="83.90" stroke="#2f8c3e" stroke-width="1.1" />
<line x1="346.30" y1="92.30" x2="352.90" y2="92.30" stroke="#2f8c3e" stroke-width="1.1" />
<rect x="346.20" y="84.70" width="6.80" height="6.80" fill="#4a5ab8"/>
<line x1="559.50" y1="90.40" x2="571.00" y2="90.40" stroke="#4a5ab8" stroke-width="1.0" />
<circle cx="565.30" cy="90.40" r="2.60" fill="#4a5ab8"/>
<text x="574.40" y="93.28" font-size="8.0" text-anchor="start" font-weight="bold" fill="#111" stroke="#111" stroke-width="0.18" textLength="65.90" lengthAdjust="spacingAndGlyphs" style="">1122A11 20 mg/kg</text>
<line x1="559.50" y1="103.20" x2="571.00" y2="103.20" stroke="#4a5ab8" stroke-width="1.0" stroke-dasharray="2.5,1.5"/>
<rect x="562.50" y="100.40" width="5.60" height="5.60" fill="#4a5ab8"/>
<text x="574.40" y="106.08" font-size="8.0" text-anchor="start" font-weight="bold" fill="#111" stroke="#111" stroke-width="0.18" textLength="62.10" lengthAdjust="spacingAndGlyphs" style="">1122A11 2 mg/kg</text>
<line x1="559.50" y1="115.20" x2="571.00" y2="115.20" stroke="#e0262c" stroke-width="1.0" />
<polygon points="565.30,112.05 568.30,118.19 562.30,118.19" fill="#e0262c"/>
<text x="574.40" y="118.08" font-size="8.0" text-anchor="start" font-weight="bold" fill="#111" stroke="#111" stroke-width="0.18" textLength="99.50" lengthAdjust="spacingAndGlyphs" style="">1122A11-LALAPG 20 mg/kg</text>
<line x1="559.50" y1="127.40" x2="571.00" y2="127.40" stroke="#e0262c" stroke-width="1.0" stroke-dasharray="2.5,1.5"/>
<polygon points="565.30,130.55 568.30,124.41 562.30,124.41" fill="#e0262c"/>
<text x="574.40" y="130.28" font-size="8.0" text-anchor="start" font-weight="bold" fill="#111" stroke="#111" stroke-width="0.18" textLength="95.30" lengthAdjust="spacingAndGlyphs" style="">1122A11-LALAPG 2 mg/kg</text>
<line x1="559.50" y1="139.40" x2="571.00" y2="139.40" stroke="#2f8c3e" stroke-width="1.0" />
<polygon points="565.30,136.90 567.80,139.40 565.30,141.90 562.80,139.40" fill="#2f8c3e"/>
<text x="574.40" y="142.28" font-size="8.0" text-anchor="start" font-weight="bold" fill="#111" stroke="#111" stroke-width="0.18" textLength="56.20" lengthAdjust="spacingAndGlyphs" style="">Isotype Control</text>
<line x1="559.50" y1="151.70" x2="571.00" y2="151.70" stroke="#111" stroke-width="1.0" />
<circle cx="565.30" cy="151.70" r="2.60" fill="#111"/>
<text x="574.40" y="154.58" font-size="8.0" text-anchor="start" font-weight="bold" fill="#111" stroke="#111" stroke-width="0.18" textLength="102.00" lengthAdjust="spacingAndGlyphs" style="">Mock treated, virus infected</text>
<rect x="562.40" y="160.30" width="5.8" height="5.8" fill="#fff" stroke="#111" stroke-width="1.1"/>
<line x1="559.50" y1="163.20" x2="571.00" y2="163.20" stroke="#111" stroke-width="1.0" />
<text x="574.40" y="166.08" font-size="8.0" text-anchor="start" font-weight="bold" fill="#111" stroke="#111" stroke-width="0.18" textLength="103.90" lengthAdjust="spacingAndGlyphs" style="">Mock treated, mock infected</text>
<text x="93.30" y="242.02" font-size="6.45" text-anchor="middle" font-weight="bold" fill="#111" stroke="#111" stroke-width="0.12" style="">1122A11 20 mg/kg</text>
<line x1="26.40" y1="326.10" x2="28.60" y2="326.10" stroke="#111" stroke-width="0.8" />
<text x="26.10" y="327.50" font-size="3.9" text-anchor="end" font-weight="bold" fill="#111" stroke="#111" stroke-width="0.1" style="">60</text>
<line x1="26.40" y1="313.15" x2="28.60" y2="313.15" stroke="#111" stroke-width="0.8" />
<text x="26.10" y="314.55" font-size="3.9" text-anchor="end" font-weight="bold" fill="#111" stroke="#111" stroke-width="0.1" style="">70</text>
<line x1="26.40" y1="300.20" x2="28.60" y2="300.20" stroke="#111" stroke-width="0.8" />
<text x="26.10" y="301.60" font-size="3.9" text-anchor="end" font-weight="bold" fill="#111" stroke="#111" stroke-width="0.1" style="">80</text>
<line x1="26.40" y1="287.25" x2="28.60" y2="287.25" stroke="#111" stroke-width="0.8" />
<text x="26.10" y="288.65" font-size="3.9" text-anchor="end" font-weight="bold" fill="#111" stroke="#111" stroke-width="0.1" style="">90</text>
<line x1="26.40" y1="274.30" x2="28.60" y2="274.30" stroke="#111" stroke-width="0.8" />
<text x="26.10" y="275.70" font-size="3.9" text-anchor="end" font-weight="bold" fill="#111" stroke="#111" stroke-width="0.1" style="">100</text>
<line x1="26.40" y1="261.35" x2="28.60" y2="261.35" stroke="#111" stroke-width="0.8" />
<text x="26.10" y="262.75" font-size="3.9" text-anchor="end" font-weight="bold" fill="#111" stroke="#111" stroke-width="0.1" style="">110</text>
<line x1="26.40" y1="248.40" x2="28.60" y2="248.40" stroke="#111" stroke-width="0.8" />
<text x="26.10" y="249.80" font-size="3.9" text-anchor="end" font-weight="bold" fill="#111" stroke="#111" stroke-width="0.1" style="">120</text>
<line x1="28.60" y1="326.10" x2="28.60" y2="328.10" stroke="#111" stroke-width="0.8" />
<text x="28.60" y="332.50" font-size="3.9" text-anchor="middle" font-weight="bold" fill="#111" stroke="#111" stroke-width="0.1" style="">0</text>
<line x1="39.39" y1="326.10" x2="39.39" y2="328.10" stroke="#111" stroke-width="0.8" />
<text x="39.39" y="332.50" font-size="3.9" text-anchor="middle" font-weight="bold" fill="#111" stroke="#111" stroke-width="0.1" style="">1</text>
<line x1="50.18" y1="326.10" x2="50.18" y2="328.10" stroke="#111" stroke-width="0.8" />
<text x="50.18" y="332.50" font-size="3.9" text-anchor="middle" font-weight="bold" fill="#111" stroke="#111" stroke-width="0.1" style="">2</text>
<line x1="60.97" y1="326.10" x2="60.97" y2="328.10" stroke="#111" stroke-width="0.8" />
<text x="60.97" y="332.50" font-size="3.9" text-anchor="middle" font-weight="bold" fill="#111" stroke="#111" stroke-width="0.1" style="">3</text>
<line x1="71.76" y1="326.10" x2="71.76" y2="328.10" stroke="#111" stroke-width="0.8" />
<text x="71.76" y="332.50" font-size="3.9" text-anchor="middle" font-weight="bold" fill="#111" stroke="#111" stroke-width="0.1" style="">4</text>
<line x1="82.55" y1="326.10" x2="82.55" y2="328.10" stroke="#111" stroke-width="0.8" />
<text x="82.55" y="332.50" font-size="3.9" text-anchor="middle" font-weight="bold" fill="#111" stroke="#111" stroke-width="0.1" style="">5</text>
<line x1="93.34" y1="326.10" x2="93.34" y2="328.10" stroke="#111" stroke-width="0.8" />
<text x="93.34" y="332.50" font-size="3.9" text-anchor="middle" font-weight="bold" fill="#111" stroke="#111" stroke-width="0.1" style="">6</text>
<line x1="104.13" y1="326.10" x2="104.13" y2="328.10" stroke="#111" stroke-width="0.8" />
<text x="104.13" y="332.50" font-size="3.9" text-anchor="middle" font-weight="bold" fill="#111" stroke="#111" stroke-width="0.1" style="">7</text>
<line x1="114.92" y1="326.10" x2="114.92" y2="328.10" stroke="#111" stroke-width="0.8" />
<text x="114.92" y="332.50" font-size="3.9" text-anchor="middle" font-weight="bold" fill="#111" stroke="#111" stroke-width="0.1" style="">8</text>
<line x1="125.71" y1="326.10" x2="125.71" y2="328.10" stroke="#111" stroke-width="0.8" />
<text x="125.71" y="332.50" font-size="3.9" text-anchor="middle" font-weight="bold" fill="#111" stroke="#111" stroke-width="0.1" style="">9</text>
<line x1="136.50" y1="326.10" x2="136.50" y2="328.10" stroke="#111" stroke-width="0.8" />
<text x="136.50" y="332.50" font-size="3.9" text-anchor="middle" font-weight="bold" fill="#111" stroke="#111" stroke-width="0.1" style="">10</text>
<line x1="147.29" y1="326.10" x2="147.29" y2="328.10" stroke="#111" stroke-width="0.8" />
<text x="147.29" y="332.50" font-size="3.9" text-anchor="middle" font-weight="bold" fill="#111" stroke="#111" stroke-width="0.1" style="">11</text>
<line x1="158.08" y1="326.10" x2="158.08" y2="328.10" stroke="#111" stroke-width="0.8" />
<text x="158.08" y="332.50" font-size="3.9" text-anchor="middle" font-weight="bold" fill="#111" stroke="#111" stroke-width="0.1" style="">12</text>
<text x="92.84" y="338.95" font-size="4.3" text-anchor="middle" font-weight="bold" fill="#111"  style="">dpi</text>
<text x="15.00" y="289.49" font-size="5.4" text-anchor="middle" font-weight="bold" fill="#2a2a2a" transform="rotate(-90 15.00 287.55)"  style="">% Initial Body Weight</text>
<line x1="28.60" y1="247.90" x2="28.60" y2="326.60" stroke="#3a3a3a" stroke-width="1.25" />
<line x1="28.10" y1="326.10" x2="158.48" y2="326.10" stroke="#3a3a3a" stroke-width="1.25" />
<polyline points="28.60,274.30 39.39,267.57 50.18,279.09 60.97,276.63 71.76,278.31 82.55,268.47 93.34,271.32 104.13,267.31 114.92,267.31 125.71,267.31 136.50,263.29" fill="none" stroke="#4a5ab8" stroke-width="0.85" stroke-linejoin="round"/>
<polyline points="28.60,274.30 39.39,271.45 50.18,280.90 60.97,278.70 71.76,280.00 82.55,269.90 93.34,272.75 104.13,268.86 114.92,269.12 125.71,268.34 136.50,264.98" fill="none" stroke="#4a5ab8" stroke-width="0.85" stroke-linejoin="round"/>
<polyline points="28.60,274.30 39.39,275.08 50.18,282.59 60.97,281.68 71.76,281.68 82.55,271.45 93.34,274.95 104.13,270.67 114.92,270.93 125.71,269.77 136.50,269.77" fill="none" stroke="#4a5ab8" stroke-width="0.85" stroke-linejoin="round"/>
<polyline points="28.60,274.30 39.39,276.63 50.18,283.88 60.97,284.53 71.76,282.98 82.55,272.49 93.34,276.63 104.13,272.36 114.92,273.13 125.71,270.42 136.50,270.42" fill="none" stroke="#4a5ab8" stroke-width="0.85" stroke-linejoin="round"/>
<polyline points="28.60,274.30 39.39,276.11 50.18,287.12 60.97,285.96 71.76,284.53 82.55,271.71 93.34,278.06 104.13,271.71 114.92,271.97 125.71,269.77 136.50,269.77" fill="none" stroke="#4a5ab8" stroke-width="0.85" stroke-linejoin="round"/>
<circle cx="28.60" cy="274.30" r="1.80" fill="#4a5ab8"/>
<circle cx="39.39" cy="267.57" r="1.80" fill="#4a5ab8"/>
<circle cx="50.18" cy="279.09" r="1.80" fill="#4a5ab8"/>
<circle cx="60.97" cy="276.63" r="1.80" fill="#4a5ab8"/>
<circle cx="71.76" cy="278.31" r="1.80" fill="#4a5ab8"/>
<circle cx="82.55" cy="268.47" r="1.80" fill="#4a5ab8"/>
<circle cx="93.34" cy="271.32" r="1.80" fill="#4a5ab8"/>
<circle cx="104.13" cy="267.31" r="1.80" fill="#4a5ab8"/>
<circle cx="114.92" cy="267.31" r="1.80" fill="#4a5ab8"/>
<circle cx="125.71" cy="267.31" r="1.80" fill="#4a5ab8"/>
<circle cx="136.50" cy="263.29" r="1.80" fill="#4a5ab8"/>
<circle cx="28.60" cy="274.30" r="1.80" fill="#4a5ab8"/>
<circle cx="39.39" cy="271.45" r="1.80" fill="#4a5ab8"/>
<circle cx="50.18" cy="280.90" r="1.80" fill="#4a5ab8"/>
<circle cx="60.97" cy="278.70" r="1.80" fill="#4a5ab8"/>
<circle cx="71.76" cy="280.00" r="1.80" fill="#4a5ab8"/>
<circle cx="82.55" cy="269.90" r="1.80" fill="#4a5ab8"/>
<circle cx="93.34" cy="272.75" r="1.80" fill="#4a5ab8"/>
<circle cx="104.13" cy="268.86" r="1.80" fill="#4a5ab8"/>
<circle cx="114.92" cy="269.12" r="1.80" fill="#4a5ab8"/>
<circle cx="125.71" cy="268.34" r="1.80" fill="#4a5ab8"/>
<circle cx="136.50" cy="264.98" r="1.80" fill="#4a5ab8"/>
<circle cx="28.60" cy="274.30" r="1.80" fill="#4a5ab8"/>
<circle cx="39.39" cy="275.08" r="1.80" fill="#4a5ab8"/>
<circle cx="50.18" cy="282.59" r="1.80" fill="#4a5ab8"/>
<circle cx="60.97" cy="281.68" r="1.80" fill="#4a5ab8"/>
<circle cx="71.76" cy="281.68" r="1.80" fill="#4a5ab8"/>
<circle cx="82.55" cy="271.45" r="1.80" fill="#4a5ab8"/>
<circle cx="93.34" cy="274.95" r="1.80" fill="#4a5ab8"/>
<circle cx="104.13" cy="270.67" r="1.80" fill="#4a5ab8"/>
<circle cx="114.92" cy="270.93" r="1.80" fill="#4a5ab8"/>
<circle cx="125.71" cy="269.77" r="1.80" fill="#4a5ab8"/>
<circle cx="136.50" cy="269.77" r="1.80" fill="#4a5ab8"/>
<circle cx="28.60" cy="274.30" r="1.80" fill="#4a5ab8"/>
<circle cx="39.39" cy="276.63" r="1.80" fill="#4a5ab8"/>
<circle cx="50.18" cy="283.88" r="1.80" fill="#4a5ab8"/>
<circle cx="60.97" cy="284.53" r="1.80" fill="#4a5ab8"/>
<circle cx="71.76" cy="282.98" r="1.80" fill="#4a5ab8"/>
<circle cx="82.55" cy="272.49" r="1.80" fill="#4a5ab8"/>
<circle cx="93.34" cy="276.63" r="1.80" fill="#4a5ab8"/>
<circle cx="104.13" cy="272.36" r="1.80" fill="#4a5ab8"/>
<circle cx="114.92" cy="273.13" r="1.80" fill="#4a5ab8"/>
<circle cx="125.71" cy="270.42" r="1.80" fill="#4a5ab8"/>
<circle cx="136.50" cy="270.42" r="1.80" fill="#4a5ab8"/>
<circle cx="28.60" cy="274.30" r="1.80" fill="#4a5ab8"/>
<circle cx="39.39" cy="276.11" r="1.80" fill="#4a5ab8"/>
<circle cx="50.18" cy="287.12" r="1.80" fill="#4a5ab8"/>
<circle cx="60.97" cy="285.96" r="1.80" fill="#4a5ab8"/>
<circle cx="71.76" cy="284.53" r="1.80" fill="#4a5ab8"/>
<circle cx="82.55" cy="271.71" r="1.80" fill="#4a5ab8"/>
<circle cx="93.34" cy="278.06" r="1.80" fill="#4a5ab8"/>
<circle cx="104.13" cy="271.71" r="1.80" fill="#4a5ab8"/>
<circle cx="114.92" cy="271.97" r="1.80" fill="#4a5ab8"/>
<circle cx="125.71" cy="269.77" r="1.80" fill="#4a5ab8"/>
<circle cx="136.50" cy="269.77" r="1.80" fill="#4a5ab8"/>
<text x="268.00" y="241.82" font-size="6.45" text-anchor="middle" font-weight="bold" fill="#111" stroke="#111" stroke-width="0.12" style="">1122A11 10 mg/kg</text>
<line x1="201.30" y1="326.20" x2="203.50" y2="326.20" stroke="#111" stroke-width="0.8" />
<text x="201.00" y="327.60" font-size="3.9" text-anchor="end" font-weight="bold" fill="#111" stroke="#111" stroke-width="0.1" style="">60</text>
<line x1="201.30" y1="313.25" x2="203.50" y2="313.25" stroke="#111" stroke-width="0.8" />
<text x="201.00" y="314.65" font-size="3.9" text-anchor="end" font-weight="bold" fill="#111" stroke="#111" stroke-width="0.1" style="">70</text>
<line x1="201.30" y1="300.30" x2="203.50" y2="300.30" stroke="#111" stroke-width="0.8" />
<text x="201.00" y="301.70" font-size="3.9" text-anchor="end" font-weight="bold" fill="#111" stroke="#111" stroke-width="0.1" style="">80</text>
<line x1="201.30" y1="287.35" x2="203.50" y2="287.35" stroke="#111" stroke-width="0.8" />
<text x="201.00" y="288.75" font-size="3.9" text-anchor="end" font-weight="bold" fill="#111" stroke="#111" stroke-width="0.1" style="">90</text>
<line x1="201.30" y1="274.40" x2="203.50" y2="274.40" stroke="#111" stroke-width="0.8" />
<text x="201.00" y="275.80" font-size="3.9" text-anchor="end" font-weight="bold" fill="#111" stroke="#111" stroke-width="0.1" style="">100</text>
<line x1="201.30" y1="261.45" x2="203.50" y2="261.45" stroke="#111" stroke-width="0.8" />
<text x="201.00" y="262.85" font-size="3.9" text-anchor="end" font-weight="bold" fill="#111" stroke="#111" stroke-width="0.1" style="">110</text>
<line x1="201.30" y1="248.50" x2="203.50" y2="248.50" stroke="#111" stroke-width="0.8" />
<text x="201.00" y="249.90" font-size="3.9" text-anchor="end" font-weight="bold" fill="#111" stroke="#111" stroke-width="0.1" style="">120</text>
<line x1="203.50" y1="326.20" x2="203.50" y2="328.20" stroke="#111" stroke-width="0.8" />
<text x="203.50" y="332.60" font-size="3.9" text-anchor="middle" font-weight="bold" fill="#111" stroke="#111" stroke-width="0.1" style="">0</text>
<line x1="214.29" y1="326.20" x2="214.29" y2="328.20" stroke="#111" stroke-width="0.8" />
<text x="214.29" y="332.60" font-size="3.9" text-anchor="middle" font-weight="bold" fill="#111" stroke="#111" stroke-width="0.1" style="">1</text>
<line x1="225.08" y1="326.20" x2="225.08" y2="328.20" stroke="#111" stroke-width="0.8" />
<text x="225.08" y="332.60" font-size="3.9" text-anchor="middle" font-weight="bold" fill="#111" stroke="#111" stroke-width="0.1" style="">2</text>
<line x1="235.87" y1="326.20" x2="235.87" y2="328.20" stroke="#111" stroke-width="0.8" />
<text x="235.87" y="332.60" font-size="3.9" text-anchor="middle" font-weight="bold" fill="#111" stroke="#111" stroke-width="0.1" style="">3</text>
<line x1="246.66" y1="326.20" x2="246.66" y2="328.20" stroke="#111" stroke-width="0.8" />
<text x="246.66" y="332.60" font-size="3.9" text-anchor="middle" font-weight="bold" fill="#111" stroke="#111" stroke-width="0.1" style="">4</text>
<line x1="257.45" y1="326.20" x2="257.45" y2="328.20" stroke="#111" stroke-width="0.8" />
<text x="257.45" y="332.60" font-size="3.9" text-anchor="middle" font-weight="bold" fill="#111" stroke="#111" stroke-width="0.1" style="">5</text>
<line x1="268.24" y1="326.20" x2="268.24" y2="328.20" stroke="#111" stroke-width="0.8" />
<text x="268.24" y="332.60" font-size="3.9" text-anchor="middle" font-weight="bold" fill="#111" stroke="#111" stroke-width="0.1" style="">6</text>
<line x1="279.03" y1="326.20" x2="279.03" y2="328.20" stroke="#111" stroke-width="0.8" />
<text x="279.03" y="332.60" font-size="3.9" text-anchor="middle" font-weight="bold" fill="#111" stroke="#111" stroke-width="0.1" style="">7</text>
<line x1="289.82" y1="326.20" x2="289.82" y2="328.20" stroke="#111" stroke-width="0.8" />
<text x="289.82" y="332.60" font-size="3.9" text-anchor="middle" font-weight="bold" fill="#111" stroke="#111" stroke-width="0.1" style="">8</text>
<line x1="300.61" y1="326.20" x2="300.61" y2="328.20" stroke="#111" stroke-width="0.8" />
<text x="300.61" y="332.60" font-size="3.9" text-anchor="middle" font-weight="bold" fill="#111" stroke="#111" stroke-width="0.1" style="">9</text>
<line x1="311.40" y1="326.20" x2="311.40" y2="328.20" stroke="#111" stroke-width="0.8" />
<text x="311.40" y="332.60" font-size="3.9" text-anchor="middle" font-weight="bold" fill="#111" stroke="#111" stroke-width="0.1" style="">10</text>
<line x1="322.19" y1="326.20" x2="322.19" y2="328.20" stroke="#111" stroke-width="0.8" />
<text x="322.19" y="332.60" font-size="3.9" text-anchor="middle" font-weight="bold" fill="#111" stroke="#111" stroke-width="0.1" style="">11</text>
<line x1="332.98" y1="326.20" x2="332.98" y2="328.20" stroke="#111" stroke-width="0.8" />
<text x="332.98" y="332.60" font-size="3.9" text-anchor="middle" font-weight="bold" fill="#111" stroke="#111" stroke-width="0.1" style="">12</text>
<text x="267.74" y="339.05" font-size="4.3" text-anchor="middle" font-weight="bold" fill="#111"  style="">dpi</text>
<text x="189.90" y="289.59" font-size="5.4" text-anchor="middle" font-weight="bold" fill="#2a2a2a" transform="rotate(-90 189.90 287.65)"  style="">% Initial Body Weight</text>
<line x1="203.50" y1="248.00" x2="203.50" y2="326.70" stroke="#3a3a3a" stroke-width="1.25" />
<line x1="203.00" y1="326.20" x2="333.38" y2="326.20" stroke="#3a3a3a" stroke-width="1.25" />
<polyline points="203.50,274.40 214.29,275.44 225.08,284.50 235.87,290.72 246.66,290.72 257.45,283.34 268.24,281.52 279.03,278.41 289.82,272.20 300.61,270.26 311.40,269.22" fill="none" stroke="#4a5ab8" stroke-width="0.85" stroke-dasharray="1.6,1.0" stroke-linejoin="round"/>
<polyline points="203.50,274.40 214.29,277.12 225.08,287.74 235.87,293.82 246.66,293.18 257.45,284.50 268.24,283.34 279.03,280.10 289.82,274.66 300.61,273.36 311.40,272.72" fill="none" stroke="#4a5ab8" stroke-width="0.85" stroke-dasharray="1.6,1.0" stroke-linejoin="round"/>
<polyline points="203.50,274.40 214.29,278.41 225.08,289.94 235.87,296.42 246.66,296.93 257.45,286.96 268.24,284.50 279.03,283.34 289.82,277.12 300.61,275.82 311.40,275.82" fill="none" stroke="#4a5ab8" stroke-width="0.85" stroke-dasharray="1.6,1.0" stroke-linejoin="round"/>
<polyline points="203.50,274.40 214.29,280.10 225.08,291.49 235.87,298.36 246.66,301.34 257.45,291.88 268.24,289.94 279.03,288.26 289.82,280.88 300.61,277.12 311.40,278.41" fill="none" stroke="#4a5ab8" stroke-width="0.85" stroke-dasharray="1.6,1.0" stroke-linejoin="round"/>
<polyline points="203.50,274.40 214.29,278.93 225.08,290.59 235.87,295.12 246.66,294.47 257.45,285.41 268.24,284.11 279.03,281.52 289.82,283.34 300.61,275.05 311.40,273.75" fill="none" stroke="#4a5ab8" stroke-width="0.85" stroke-dasharray="1.6,1.0" stroke-linejoin="round"/>
<rect x="201.95" y="272.85" width="3.10" height="3.10" fill="#4a5ab8"/>
<rect x="212.74" y="273.89" width="3.10" height="3.10" fill="#4a5ab8"/>
<rect x="223.53" y="282.95" width="3.10" height="3.10" fill="#4a5ab8"/>
<rect x="234.32" y="289.17" width="3.10" height="3.10" fill="#4a5ab8"/>
<rect x="245.11" y="289.17" width="3.10" height="3.10" fill="#4a5ab8"/>
<rect x="255.90" y="281.79" width="3.10" height="3.10" fill="#4a5ab8"/>
<rect x="266.69" y="279.97" width="3.10" height="3.10" fill="#4a5ab8"/>
<rect x="277.48" y="276.86" width="3.10" height="3.10" fill="#4a5ab8"/>
<rect x="288.27" y="270.65" width="3.10" height="3.10" fill="#4a5ab8"/>
<rect x="299.06" y="268.71" width="3.10" height="3.10" fill="#4a5ab8"/>
<rect x="309.85" y="267.67" width="3.10" height="3.10" fill="#4a5ab8"/>
<rect x="201.95" y="272.85" width="3.10" height="3.10" fill="#4a5ab8"/>
<rect x="212.74" y="275.57" width="3.10" height="3.10" fill="#4a5ab8"/>
<rect x="223.53" y="286.19" width="3.10" height="3.10" fill="#4a5ab8"/>
<rect x="234.32" y="292.27" width="3.10" height="3.10" fill="#4a5ab8"/>
<rect x="245.11" y="291.63" width="3.10" height="3.10" fill="#4a5ab8"/>
<rect x="255.90" y="282.95" width="3.10" height="3.10" fill="#4a5ab8"/>
<rect x="266.69" y="281.79" width="3.10" height="3.10" fill="#4a5ab8"/>
<rect x="277.48" y="278.55" width="3.10" height="3.10" fill="#4a5ab8"/>
<rect x="288.27" y="273.11" width="3.10" height="3.10" fill="#4a5ab8"/>
<rect x="299.06" y="271.81" width="3.10" height="3.10" fill="#4a5ab8"/>
<rect x="309.85" y="271.17" width="3.10" height="3.10" fill="#4a5ab8"/>
<rect x="201.95" y="272.85" width="3.10" height="3.10" fill="#4a5ab8"/>
<rect x="212.74" y="276.86" width="3.10" height="3.10" fill="#4a5ab8"/>
<rect x="223.53" y="288.39" width="3.10" height="3.10" fill="#4a5ab8"/>
<rect x="234.32" y="294.87" width="3.10" height="3.10" fill="#4a5ab8"/>
<rect x="245.11" y="295.38" width="3.10" height="3.10" fill="#4a5ab8"/>
<rect x="255.90" y="285.41" width="3.10" height="3.10" fill="#4a5ab8"/>
<rect x="266.69" y="282.95" width="3.10" height="3.10" fill="#4a5ab8"/>
<rect x="277.48" y="281.79" width="3.10" height="3.10" fill="#4a5ab8"/>
<rect x="288.27" y="275.57" width="3.10" height="3.10" fill="#4a5ab8"/>
<rect x="299.06" y="274.27" width="3.10" height="3.10" fill="#4a5ab8"/>
<rect x="309.85" y="274.27" width="3.10" height="3.10" fill="#4a5ab8"/>
<rect x="201.95" y="272.85" width="3.10" height="3.10" fill="#4a5ab8"/>
<rect x="212.74" y="278.55" width="3.10" height="3.10" fill="#4a5ab8"/>
<rect x="223.53" y="289.94" width="3.10" height="3.10" fill="#4a5ab8"/>
<rect x="234.32" y="296.81" width="3.10" height="3.10" fill="#4a5ab8"/>
<rect x="245.11" y="299.79" width="3.10" height="3.10" fill="#4a5ab8"/>
<rect x="255.90" y="290.33" width="3.10" height="3.10" fill="#4a5ab8"/>
<rect x="266.69" y="288.39" width="3.10" height="3.10" fill="#4a5ab8"/>
<rect x="277.48" y="286.71" width="3.10" height="3.10" fill="#4a5ab8"/>
<rect x="288.27" y="279.32" width="3.10" height="3.10" fill="#4a5ab8"/>
<rect x="299.06" y="275.57" width="3.10" height="3.10" fill="#4a5ab8"/>
<rect x="309.85" y="276.86" width="3.10" height="3.10" fill="#4a5ab8"/>
<rect x="201.95" y="272.85" width="3.10" height="3.10" fill="#4a5ab8"/>
<rect x="212.74" y="277.38" width="3.10" height="3.10" fill="#4a5ab8"/>
<rect x="223.53" y="289.04" width="3.10" height="3.10" fill="#4a5ab8"/>
<rect x="234.32" y="293.57" width="3.10" height="3.10" fill="#4a5ab8"/>
<rect x="245.11" y="292.92" width="3.10" height="3.10" fill="#4a5ab8"/>
<rect x="255.90" y="283.86" width="3.10" height="3.10" fill="#4a5ab8"/>
<rect x="266.69" y="282.56" width="3.10" height="3.10" fill="#4a5ab8"/>
<rect x="277.48" y="279.97" width="3.10" height="3.10" fill="#4a5ab8"/>
<rect x="288.27" y="281.79" width="3.10" height="3.10" fill="#4a5ab8"/>
<rect x="299.06" y="273.50" width="3.10" height="3.10" fill="#4a5ab8"/>
<rect x="309.85" y="272.20" width="3.10" height="3.10" fill="#4a5ab8"/>
<text x="442.30" y="241.72" font-size="6.45" text-anchor="middle" font-weight="bold" fill="#111" stroke="#111" stroke-width="0.12" style="">Isotype Control</text>
<line x1="375.90" y1="326.20" x2="378.10" y2="326.20" stroke="#111" stroke-width="0.8" />
<text x="375.60" y="327.60" font-size="3.9" text-anchor="end" font-weight="bold" fill="#111" stroke="#111" stroke-width="0.1" style="">60</text>
<line x1="375.90" y1="313.25" x2="378.10" y2="313.25" stroke="#111" stroke-width="0.8" />
<text x="375.60" y="314.65" font-size="3.9" text-anchor="end" font-weight="bold" fill="#111" stroke="#111" stroke-width="0.1" style="">70</text>
<line x1="375.90" y1="300.30" x2="378.10" y2="300.30" stroke="#111" stroke-width="0.8" />
<text x="375.60" y="301.70" font-size="3.9" text-anchor="end" font-weight="bold" fill="#111" stroke="#111" stroke-width="0.1" style="">80</text>
<line x1="375.90" y1="287.35" x2="378.10" y2="287.35" stroke="#111" stroke-width="0.8" />
<text x="375.60" y="288.75" font-size="3.9" text-anchor="end" font-weight="bold" fill="#111" stroke="#111" stroke-width="0.1" style="">90</text>
<line x1="375.90" y1="274.40" x2="378.10" y2="274.40" stroke="#111" stroke-width="0.8" />
<text x="375.60" y="275.80" font-size="3.9" text-anchor="end" font-weight="bold" fill="#111" stroke="#111" stroke-width="0.1" style="">100</text>
<line x1="375.90" y1="261.45" x2="378.10" y2="261.45" stroke="#111" stroke-width="0.8" />
<text x="375.60" y="262.85" font-size="3.9" text-anchor="end" font-weight="bold" fill="#111" stroke="#111" stroke-width="0.1" style="">110</text>
<line x1="375.90" y1="248.50" x2="378.10" y2="248.50" stroke="#111" stroke-width="0.8" />
<text x="375.60" y="249.90" font-size="3.9" text-anchor="end" font-weight="bold" fill="#111" stroke="#111" stroke-width="0.1" style="">120</text>
<line x1="378.10" y1="326.20" x2="378.10" y2="328.20" stroke="#111" stroke-width="0.8" />
<text x="378.10" y="332.60" font-size="3.9" text-anchor="middle" font-weight="bold" fill="#111" stroke="#111" stroke-width="0.1" style="">0</text>
<line x1="388.89" y1="326.20" x2="388.89" y2="328.20" stroke="#111" stroke-width="0.8" />
<text x="388.89" y="332.60" font-size="3.9" text-anchor="middle" font-weight="bold" fill="#111" stroke="#111" stroke-width="0.1" style="">1</text>
<line x1="399.68" y1="326.20" x2="399.68" y2="328.20" stroke="#111" stroke-width="0.8" />
<text x="399.68" y="332.60" font-size="3.9" text-anchor="middle" font-weight="bold" fill="#111" stroke="#111" stroke-width="0.1" style="">2</text>
<line x1="410.47" y1="326.20" x2="410.47" y2="328.20" stroke="#111" stroke-width="0.8" />
<text x="410.47" y="332.60" font-size="3.9" text-anchor="middle" font-weight="bold" fill="#111" stroke="#111" stroke-width="0.1" style="">3</text>
<line x1="421.26" y1="326.20" x2="421.26" y2="328.20" stroke="#111" stroke-width="0.8" />
<text x="421.26" y="332.60" font-size="3.9" text-anchor="middle" font-weight="bold" fill="#111" stroke="#111" stroke-width="0.1" style="">4</text>
<line x1="432.05" y1="326.20" x2="432.05" y2="328.20" stroke="#111" stroke-width="0.8" />
<text x="432.05" y="332.60" font-size="3.9" text-anchor="middle" font-weight="bold" fill="#111" stroke="#111" stroke-width="0.1" style="">5</text>
<line x1="442.84" y1="326.20" x2="442.84" y2="328.20" stroke="#111" stroke-width="0.8" />
<text x="442.84" y="332.60" font-size="3.9" text-anchor="middle" font-weight="bold" fill="#111" stroke="#111" stroke-width="0.1" style="">6</text>
<line x1="453.63" y1="326.20" x2="453.63" y2="328.20" stroke="#111" stroke-width="0.8" />
<text x="453.63" y="332.60" font-size="3.9" text-anchor="middle" font-weight="bold" fill="#111" stroke="#111" stroke-width="0.1" style="">7</text>
<line x1="464.42" y1="326.20" x2="464.42" y2="328.20" stroke="#111" stroke-width="0.8" />
<text x="464.42" y="332.60" font-size="3.9" text-anchor="middle" font-weight="bold" fill="#111" stroke="#111" stroke-width="0.1" style="">8</text>
<line x1="475.21" y1="326.20" x2="475.21" y2="328.20" stroke="#111" stroke-width="0.8" />
<text x="475.21" y="332.60" font-size="3.9" text-anchor="middle" font-weight="bold" fill="#111" stroke="#111" stroke-width="0.1" style="">9</text>
<line x1="486.00" y1="326.20" x2="486.00" y2="328.20" stroke="#111" stroke-width="0.8" />
<text x="486.00" y="332.60" font-size="3.9" text-anchor="middle" font-weight="bold" fill="#111" stroke="#111" stroke-width="0.1" style="">10</text>
<line x1="496.79" y1="326.20" x2="496.79" y2="328.20" stroke="#111" stroke-width="0.8" />
<text x="496.79" y="332.60" font-size="3.9" text-anchor="middle" font-weight="bold" fill="#111" stroke="#111" stroke-width="0.1" style="">11</text>
<line x1="507.58" y1="326.20" x2="507.58" y2="328.20" stroke="#111" stroke-width="0.8" />
<text x="507.58" y="332.60" font-size="3.9" text-anchor="middle" font-weight="bold" fill="#111" stroke="#111" stroke-width="0.1" style="">12</text>
<text x="442.34" y="339.05" font-size="4.3" text-anchor="middle" font-weight="bold" fill="#111"  style="">dpi</text>
<text x="364.50" y="289.59" font-size="5.4" text-anchor="middle" font-weight="bold" fill="#2a2a2a" transform="rotate(-90 364.50 287.65)"  style="">% Initial Body Weight</text>
<line x1="378.10" y1="248.00" x2="378.10" y2="326.70" stroke="#3a3a3a" stroke-width="1.25" />
<line x1="377.60" y1="326.20" x2="507.98" y2="326.20" stroke="#3a3a3a" stroke-width="1.25" />
<polyline points="378.10,274.40 388.89,276.60 399.68,285.80 410.47,291.88 421.26,296.42 432.05,307.42" fill="none" stroke="#2f8c3e" stroke-width="0.85" stroke-linejoin="round"/>
<polyline points="378.10,274.40 388.89,281.52 399.68,288.26 410.47,293.82 421.26,299.39 432.05,308.98" fill="none" stroke="#2f8c3e" stroke-width="0.85" stroke-linejoin="round"/>
<polyline points="378.10,274.40 388.89,283.34 399.68,289.94 410.47,296.42 421.26,301.34 432.05,310.66" fill="none" stroke="#2f8c3e" stroke-width="0.85" stroke-linejoin="round"/>
<polyline points="378.10,274.40 388.89,284.50 399.68,291.88 410.47,298.10 421.26,302.37 432.05,322.06" fill="none" stroke="#2f8c3e" stroke-width="0.85" stroke-linejoin="round"/>
<polyline points="378.10,274.40 388.89,282.43 399.68,290.98 410.47,297.32 421.26,300.56 432.05,309.88" fill="none" stroke="#2f8c3e" stroke-width="0.85" stroke-linejoin="round"/>
<circle cx="378.10" cy="274.40" r="1.80" fill="#2f8c3e"/>
<circle cx="388.89" cy="276.60" r="1.80" fill="#2f8c3e"/>
<circle cx="399.68" cy="285.80" r="1.80" fill="#2f8c3e"/>
<circle cx="410.47" cy="291.88" r="1.80" fill="#2f8c3e"/>
<circle cx="421.26" cy="296.42" r="1.80" fill="#2f8c3e"/>
<circle cx="432.05" cy="307.42" r="1.80" fill="#2f8c3e"/>
<circle cx="378.10" cy="274.40" r="1.80" fill="#2f8c3e"/>
<circle cx="388.89" cy="281.52" r="1.80" fill="#2f8c3e"/>
<circle cx="399.68" cy="288.26" r="1.80" fill="#2f8c3e"/>
<circle cx="410.47" cy="293.82" r="1.80" fill="#2f8c3e"/>
<circle cx="421.26" cy="299.39" r="1.80" fill="#2f8c3e"/>
<circle cx="432.05" cy="308.98" r="1.80" fill="#2f8c3e"/>
<circle cx="378.10" cy="274.40" r="1.80" fill="#2f8c3e"/>
<circle cx="388.89" cy="283.34" r="1.80" fill="#2f8c3e"/>
<circle cx="399.68" cy="289.94" r="1.80" fill="#2f8c3e"/>
<circle cx="410.47" cy="296.42" r="1.80" fill="#2f8c3e"/>
<circle cx="421.26" cy="301.34" r="1.80" fill="#2f8c3e"/>
<circle cx="432.05" cy="310.66" r="1.80" fill="#2f8c3e"/>
<circle cx="378.10" cy="274.40" r="1.80" fill="#2f8c3e"/>
<circle cx="388.89" cy="284.50" r="1.80" fill="#2f8c3e"/>
<circle cx="399.68" cy="291.88" r="1.80" fill="#2f8c3e"/>
<circle cx="410.47" cy="298.10" r="1.80" fill="#2f8c3e"/>
<circle cx="421.26" cy="302.37" r="1.80" fill="#2f8c3e"/>
<circle cx="432.05" cy="322.06" r="1.80" fill="#2f8c3e"/>
<circle cx="378.10" cy="274.40" r="1.80" fill="#2f8c3e"/>
<circle cx="388.89" cy="282.43" r="1.80" fill="#2f8c3e"/>
<circle cx="399.68" cy="290.98" r="1.80" fill="#2f8c3e"/>
<circle cx="410.47" cy="297.32" r="1.80" fill="#2f8c3e"/>
<circle cx="421.26" cy="300.56" r="1.80" fill="#2f8c3e"/>
<circle cx="432.05" cy="309.88" r="1.80" fill="#2f8c3e"/>
<text x="616.80" y="241.32" font-size="6.45" text-anchor="middle" font-weight="bold" fill="#111" stroke="#111" stroke-width="0.12" style="">Mock treated, mock infected</text>
<line x1="550.50" y1="325.90" x2="552.70" y2="325.90" stroke="#111" stroke-width="0.8" />
<text x="550.20" y="327.30" font-size="3.9" text-anchor="end" font-weight="bold" fill="#111" stroke="#111" stroke-width="0.1" style="">60</text>
<line x1="550.50" y1="312.98" x2="552.70" y2="312.98" stroke="#111" stroke-width="0.8" />
<text x="550.20" y="314.39" font-size="3.9" text-anchor="end" font-weight="bold" fill="#111" stroke="#111" stroke-width="0.1" style="">70</text>
<line x1="550.50" y1="300.07" x2="552.70" y2="300.07" stroke="#111" stroke-width="0.8" />
<text x="550.20" y="301.47" font-size="3.9" text-anchor="end" font-weight="bold" fill="#111" stroke="#111" stroke-width="0.1" style="">80</text>
<line x1="550.50" y1="287.15" x2="552.70" y2="287.15" stroke="#111" stroke-width="0.8" />
<text x="550.20" y="288.55" font-size="3.9" text-anchor="end" font-weight="bold" fill="#111" stroke="#111" stroke-width="0.1" style="">90</text>
<line x1="550.50" y1="274.23" x2="552.70" y2="274.23" stroke="#111" stroke-width="0.8" />
<text x="550.20" y="275.64" font-size="3.9" text-anchor="end" font-weight="bold" fill="#111" stroke="#111" stroke-width="0.1" style="">100</text>
<line x1="550.50" y1="261.32" x2="552.70" y2="261.32" stroke="#111" stroke-width="0.8" />
<text x="550.20" y="262.72" font-size="3.9" text-anchor="end" font-weight="bold" fill="#111" stroke="#111" stroke-width="0.1" style="">110</text>
<line x1="550.50" y1="248.40" x2="552.70" y2="248.40" stroke="#111" stroke-width="0.8" />
<text x="550.20" y="249.80" font-size="3.9" text-anchor="end" font-weight="bold" fill="#111" stroke="#111" stroke-width="0.1" style="">120</text>
<line x1="552.70" y1="325.90" x2="552.70" y2="327.90" stroke="#111" stroke-width="0.8" />
<text x="552.70" y="332.30" font-size="3.9" text-anchor="middle" font-weight="bold" fill="#111" stroke="#111" stroke-width="0.1" style="">0</text>
<line x1="563.49" y1="325.90" x2="563.49" y2="327.90" stroke="#111" stroke-width="0.8" />
<text x="563.49" y="332.30" font-size="3.9" text-anchor="middle" font-weight="bold" fill="#111" stroke="#111" stroke-width="0.1" style="">1</text>
<line x1="574.28" y1="325.90" x2="574.28" y2="327.90" stroke="#111" stroke-width="0.8" />
<text x="574.28" y="332.30" font-size="3.9" text-anchor="middle" font-weight="bold" fill="#111" stroke="#111" stroke-width="0.1" style="">2</text>
<line x1="585.07" y1="325.90" x2="585.07" y2="327.90" stroke="#111" stroke-width="0.8" />
<text x="585.07" y="332.30" font-size="3.9" text-anchor="middle" font-weight="bold" fill="#111" stroke="#111" stroke-width="0.1" style="">3</text>
<line x1="595.86" y1="325.90" x2="595.86" y2="327.90" stroke="#111" stroke-width="0.8" />
<text x="595.86" y="332.30" font-size="3.9" text-anchor="middle" font-weight="bold" fill="#111" stroke="#111" stroke-width="0.1" style="">4</text>
<line x1="606.65" y1="325.90" x2="606.65" y2="327.90" stroke="#111" stroke-width="0.8" />
<text x="606.65" y="332.30" font-size="3.9" text-anchor="middle" font-weight="bold" fill="#111" stroke="#111" stroke-width="0.1" style="">5</text>
<line x1="617.44" y1="325.90" x2="617.44" y2="327.90" stroke="#111" stroke-width="0.8" />
<text x="617.44" y="332.30" font-size="3.9" text-anchor="middle" font-weight="bold" fill="#111" stroke="#111" stroke-width="0.1" style="">6</text>
<line x1="628.23" y1="325.90" x2="628.23" y2="327.90" stroke="#111" stroke-width="0.8" />
<text x="628.23" y="332.30" font-size="3.9" text-anchor="middle" font-weight="bold" fill="#111" stroke="#111" stroke-width="0.1" style="">7</text>
<line x1="639.02" y1="325.90" x2="639.02" y2="327.90" stroke="#111" stroke-width="0.8" />
<text x="639.02" y="332.30" font-size="3.9" text-anchor="middle" font-weight="bold" fill="#111" stroke="#111" stroke-width="0.1" style="">8</text>
<line x1="649.81" y1="325.90" x2="649.81" y2="327.90" stroke="#111" stroke-width="0.8" />
<text x="649.81" y="332.30" font-size="3.9" text-anchor="middle" font-weight="bold" fill="#111" stroke="#111" stroke-width="0.1" style="">9</text>
<line x1="660.60" y1="325.90" x2="660.60" y2="327.90" stroke="#111" stroke-width="0.8" />
<text x="660.60" y="332.30" font-size="3.9" text-anchor="middle" font-weight="bold" fill="#111" stroke="#111" stroke-width="0.1" style="">10</text>
<line x1="671.39" y1="325.90" x2="671.39" y2="327.90" stroke="#111" stroke-width="0.8" />
<text x="671.39" y="332.30" font-size="3.9" text-anchor="middle" font-weight="bold" fill="#111" stroke="#111" stroke-width="0.1" style="">11</text>
<line x1="682.18" y1="325.90" x2="682.18" y2="327.90" stroke="#111" stroke-width="0.8" />
<text x="682.18" y="332.30" font-size="3.9" text-anchor="middle" font-weight="bold" fill="#111" stroke="#111" stroke-width="0.1" style="">12</text>
<text x="616.94" y="338.75" font-size="4.3" text-anchor="middle" font-weight="bold" fill="#111"  style="">dpi</text>
<text x="539.10" y="289.39" font-size="5.4" text-anchor="middle" font-weight="bold" fill="#2a2a2a" transform="rotate(-90 539.10 287.45)"  style="">% Initial Body Weight</text>
<line x1="552.70" y1="247.90" x2="552.70" y2="326.40" stroke="#3a3a3a" stroke-width="1.25" />
<line x1="552.20" y1="325.90" x2="682.58" y2="325.90" stroke="#3a3a3a" stroke-width="1.25" />
<polyline points="552.70,274.23 563.49,267.77 574.28,263.77 585.07,263.77 595.86,264.55 606.65,261.96 617.44,267.13 628.23,265.84 639.02,263.77 649.81,261.96 660.60,261.96" fill="none" stroke="#222" stroke-width="0.65" stroke-linejoin="round"/>
<polyline points="552.70,274.23 563.49,269.58 574.28,270.36 585.07,265.84 595.86,269.58 606.65,263.25 617.44,267.77 628.23,267.13 639.02,265.19 649.81,264.55 660.60,264.55" fill="none" stroke="#222" stroke-width="0.65" stroke-linejoin="round"/>
<polyline points="552.70,274.23 563.49,271.39 574.28,272.17 585.07,268.29 595.86,272.17 606.65,265.84 617.44,268.81 628.23,269.58 639.02,267.13 649.81,267.13 660.60,267.77" fill="none" stroke="#222" stroke-width="0.65" stroke-linejoin="round"/>
<polyline points="552.70,274.23 563.49,275.52 574.28,273.46 585.07,272.17 595.86,272.94 606.65,268.29 617.44,268.29 628.23,272.17 639.02,268.81 649.81,270.36 660.60,270.36" fill="none" stroke="#222" stroke-width="0.65" stroke-linejoin="round"/>
<polyline points="552.70,274.23 563.49,271.00 574.28,271.65 585.07,269.71 595.86,271.00 606.65,267.13 617.44,268.03 628.23,271.00 639.02,266.48 649.81,268.81 660.60,269.07" fill="none" stroke="#222" stroke-width="0.65" stroke-linejoin="round"/>
<rect x="551.00" y="272.53" width="3.4" height="3.4" fill="none" stroke="#222" stroke-width="0.65"/>
<rect x="561.79" y="266.07" width="3.4" height="3.4" fill="none" stroke="#222" stroke-width="0.65"/>
<rect x="572.58" y="262.07" width="3.4" height="3.4" fill="none" stroke="#222" stroke-width="0.65"/>
<rect x="583.37" y="262.07" width="3.4" height="3.4" fill="none" stroke="#222" stroke-width="0.65"/>
<rect x="594.16" y="262.85" width="3.4" height="3.4" fill="none" stroke="#222" stroke-width="0.65"/>
<rect x="604.95" y="260.26" width="3.4" height="3.4" fill="none" stroke="#222" stroke-width="0.65"/>
<rect x="615.74" y="265.43" width="3.4" height="3.4" fill="none" stroke="#222" stroke-width="0.65"/>
<rect x="626.53" y="264.14" width="3.4" height="3.4" fill="none" stroke="#222" stroke-width="0.65"/>
<rect x="637.32" y="262.07" width="3.4" height="3.4" fill="none" stroke="#222" stroke-width="0.65"/>
<rect x="648.11" y="260.26" width="3.4" height="3.4" fill="none" stroke="#222" stroke-width="0.65"/>
<rect x="658.90" y="260.26" width="3.4" height="3.4" fill="none" stroke="#222" stroke-width="0.65"/>
<rect x="551.00" y="272.53" width="3.4" height="3.4" fill="none" stroke="#222" stroke-width="0.65"/>
<rect x="561.79" y="267.88" width="3.4" height="3.4" fill="none" stroke="#222" stroke-width="0.65"/>
<rect x="572.58" y="268.66" width="3.4" height="3.4" fill="none" stroke="#222" stroke-width="0.65"/>
<rect x="583.37" y="264.14" width="3.4" height="3.4" fill="none" stroke="#222" stroke-width="0.65"/>
<rect x="594.16" y="267.88" width="3.4" height="3.4" fill="none" stroke="#222" stroke-width="0.65"/>
<rect x="604.95" y="261.55" width="3.4" height="3.4" fill="none" stroke="#222" stroke-width="0.65"/>
<rect x="615.74" y="266.07" width="3.4" height="3.4" fill="none" stroke="#222" stroke-width="0.65"/>
<rect x="626.53" y="265.43" width="3.4" height="3.4" fill="none" stroke="#222" stroke-width="0.65"/>
<rect x="637.32" y="263.49" width="3.4" height="3.4" fill="none" stroke="#222" stroke-width="0.65"/>
<rect x="648.11" y="262.85" width="3.4" height="3.4" fill="none" stroke="#222" stroke-width="0.65"/>
<rect x="658.90" y="262.85" width="3.4" height="3.4" fill="none" stroke="#222" stroke-width="0.65"/>
<rect x="551.00" y="272.53" width="3.4" height="3.4" fill="none" stroke="#222" stroke-width="0.65"/>
<rect x="561.79" y="269.69" width="3.4" height="3.4" fill="none" stroke="#222" stroke-width="0.65"/>
<rect x="572.58" y="270.47" width="3.4" height="3.4" fill="none" stroke="#222" stroke-width="0.65"/>
<rect x="583.37" y="266.59" width="3.4" height="3.4" fill="none" stroke="#222" stroke-width="0.65"/>
<rect x="594.16" y="270.47" width="3.4" height="3.4" fill="none" stroke="#222" stroke-width="0.65"/>
<rect x="604.95" y="264.14" width="3.4" height="3.4" fill="none" stroke="#222" stroke-width="0.65"/>
<rect x="615.74" y="267.11" width="3.4" height="3.4" fill="none" stroke="#222" stroke-width="0.65"/>
<rect x="626.53" y="267.88" width="3.4" height="3.4" fill="none" stroke="#222" stroke-width="0.65"/>
<rect x="637.32" y="265.43" width="3.4" height="3.4" fill="none" stroke="#222" stroke-width="0.65"/>
<rect x="648.11" y="265.43" width="3.4" height="3.4" fill="none" stroke="#222" stroke-width="0.65"/>
<rect x="658.90" y="266.07" width="3.4" height="3.4" fill="none" stroke="#222" stroke-width="0.65"/>
<rect x="551.00" y="272.53" width="3.4" height="3.4" fill="none" stroke="#222" stroke-width="0.65"/>
<rect x="561.79" y="273.82" width="3.4" height="3.4" fill="none" stroke="#222" stroke-width="0.65"/>
<rect x="572.58" y="271.76" width="3.4" height="3.4" fill="none" stroke="#222" stroke-width="0.65"/>
<rect x="583.37" y="270.47" width="3.4" height="3.4" fill="none" stroke="#222" stroke-width="0.65"/>
<rect x="594.16" y="271.24" width="3.4" height="3.4" fill="none" stroke="#222" stroke-width="0.65"/>
<rect x="604.95" y="266.59" width="3.4" height="3.4" fill="none" stroke="#222" stroke-width="0.65"/>
<rect x="615.74" y="266.59" width="3.4" height="3.4" fill="none" stroke="#222" stroke-width="0.65"/>
<rect x="626.53" y="270.47" width="3.4" height="3.4" fill="none" stroke="#222" stroke-width="0.65"/>
<rect x="637.32" y="267.11" width="3.4" height="3.4" fill="none" stroke="#222" stroke-width="0.65"/>
<rect x="648.11" y="268.66" width="3.4" height="3.4" fill="none" stroke="#222" stroke-width="0.65"/>
<rect x="658.90" y="268.66" width="3.4" height="3.4" fill="none" stroke="#222" stroke-width="0.65"/>
<rect x="551.00" y="272.53" width="3.4" height="3.4" fill="none" stroke="#222" stroke-width="0.65"/>
<rect x="561.79" y="269.30" width="3.4" height="3.4" fill="none" stroke="#222" stroke-width="0.65"/>
<rect x="572.58" y="269.95" width="3.4" height="3.4" fill="none" stroke="#222" stroke-width="0.65"/>
<rect x="583.37" y="268.01" width="3.4" height="3.4" fill="none" stroke="#222" stroke-width="0.65"/>
<rect x="594.16" y="269.30" width="3.4" height="3.4" fill="none" stroke="#222" stroke-width="0.65"/>
<rect x="604.95" y="265.43" width="3.4" height="3.4" fill="none" stroke="#222" stroke-width="0.65"/>
<rect x="615.74" y="266.33" width="3.4" height="3.4" fill="none" stroke="#222" stroke-width="0.65"/>
<rect x="626.53" y="269.30" width="3.4" height="3.4" fill="none" stroke="#222" stroke-width="0.65"/>
<rect x="637.32" y="264.78" width="3.4" height="3.4" fill="none" stroke="#222" stroke-width="0.65"/>
<rect x="648.11" y="267.11" width="3.4" height="3.4" fill="none" stroke="#222" stroke-width="0.65"/>
<rect x="658.90" y="267.37" width="3.4" height="3.4" fill="none" stroke="#222" stroke-width="0.65"/>
<text x="93.30" y="364.02" font-size="6.45" text-anchor="middle" font-weight="bold" fill="#111" stroke="#111" stroke-width="0.12" style="">1122A11-LALAPG 20 mg/kg</text>
<line x1="26.40" y1="448.40" x2="28.60" y2="448.40" stroke="#111" stroke-width="0.8" />
<text x="26.10" y="449.80" font-size="3.9" text-anchor="end" font-weight="bold" fill="#111" stroke="#111" stroke-width="0.1" style="">60</text>
<line x1="26.40" y1="435.45" x2="28.60" y2="435.45" stroke="#111" stroke-width="0.8" />
<text x="26.10" y="436.85" font-size="3.9" text-anchor="end" font-weight="bold" fill="#111" stroke="#111" stroke-width="0.1" style="">70</text>
<line x1="26.40" y1="422.50" x2="28.60" y2="422.50" stroke="#111" stroke-width="0.8" />
<text x="26.10" y="423.90" font-size="3.9" text-anchor="end" font-weight="bold" fill="#111" stroke="#111" stroke-width="0.1" style="">80</text>
<line x1="26.40" y1="409.55" x2="28.60" y2="409.55" stroke="#111" stroke-width="0.8" />
<text x="26.10" y="410.95" font-size="3.9" text-anchor="end" font-weight="bold" fill="#111" stroke="#111" stroke-width="0.1" style="">90</text>
<line x1="26.40" y1="396.60" x2="28.60" y2="396.60" stroke="#111" stroke-width="0.8" />
<text x="26.10" y="398.00" font-size="3.9" text-anchor="end" font-weight="bold" fill="#111" stroke="#111" stroke-width="0.1" style="">100</text>
<line x1="26.40" y1="383.65" x2="28.60" y2="383.65" stroke="#111" stroke-width="0.8" />
<text x="26.10" y="385.05" font-size="3.9" text-anchor="end" font-weight="bold" fill="#111" stroke="#111" stroke-width="0.1" style="">110</text>
<line x1="26.40" y1="370.70" x2="28.60" y2="370.70" stroke="#111" stroke-width="0.8" />
<text x="26.10" y="372.10" font-size="3.9" text-anchor="end" font-weight="bold" fill="#111" stroke="#111" stroke-width="0.1" style="">120</text>
<line x1="28.60" y1="448.40" x2="28.60" y2="450.40" stroke="#111" stroke-width="0.8" />
<text x="28.60" y="454.80" font-size="3.9" text-anchor="middle" font-weight="bold" fill="#111" stroke="#111" stroke-width="0.1" style="">0</text>
<line x1="39.39" y1="448.40" x2="39.39" y2="450.40" stroke="#111" stroke-width="0.8" />
<text x="39.39" y="454.80" font-size="3.9" text-anchor="middle" font-weight="bold" fill="#111" stroke="#111" stroke-width="0.1" style="">1</text>
<line x1="50.18" y1="448.40" x2="50.18" y2="450.40" stroke="#111" stroke-width="0.8" />
<text x="50.18" y="454.80" font-size="3.9" text-anchor="middle" font-weight="bold" fill="#111" stroke="#111" stroke-width="0.1" style="">2</text>
<line x1="60.97" y1="448.40" x2="60.97" y2="450.40" stroke="#111" stroke-width="0.8" />
<text x="60.97" y="454.80" font-size="3.9" text-anchor="middle" font-weight="bold" fill="#111" stroke="#111" stroke-width="0.1" style="">3</text>
<line x1="71.76" y1="448.40" x2="71.76" y2="450.40" stroke="#111" stroke-width="0.8" />
<text x="71.76" y="454.80" font-size="3.9" text-anchor="middle" font-weight="bold" fill="#111" stroke="#111" stroke-width="0.1" style="">4</text>
<line x1="82.55" y1="448.40" x2="82.55" y2="450.40" stroke="#111" stroke-width="0.8" />
<text x="82.55" y="454.80" font-size="3.9" text-anchor="middle" font-weight="bold" fill="#111" stroke="#111" stroke-width="0.1" style="">5</text>
<line x1="93.34" y1="448.40" x2="93.34" y2="450.40" stroke="#111" stroke-width="0.8" />
<text x="93.34" y="454.80" font-size="3.9" text-anchor="middle" font-weight="bold" fill="#111" stroke="#111" stroke-width="0.1" style="">6</text>
<line x1="104.13" y1="448.40" x2="104.13" y2="450.40" stroke="#111" stroke-width="0.8" />
<text x="104.13" y="454.80" font-size="3.9" text-anchor="middle" font-weight="bold" fill="#111" stroke="#111" stroke-width="0.1" style="">7</text>
<line x1="114.92" y1="448.40" x2="114.92" y2="450.40" stroke="#111" stroke-width="0.8" />
<text x="114.92" y="454.80" font-size="3.9" text-anchor="middle" font-weight="bold" fill="#111" stroke="#111" stroke-width="0.1" style="">8</text>
<line x1="125.71" y1="448.40" x2="125.71" y2="450.40" stroke="#111" stroke-width="0.8" />
<text x="125.71" y="454.80" font-size="3.9" text-anchor="middle" font-weight="bold" fill="#111" stroke="#111" stroke-width="0.1" style="">9</text>
<line x1="136.50" y1="448.40" x2="136.50" y2="450.40" stroke="#111" stroke-width="0.8" />
<text x="136.50" y="454.80" font-size="3.9" text-anchor="middle" font-weight="bold" fill="#111" stroke="#111" stroke-width="0.1" style="">10</text>
<line x1="147.29" y1="448.40" x2="147.29" y2="450.40" stroke="#111" stroke-width="0.8" />
<text x="147.29" y="454.80" font-size="3.9" text-anchor="middle" font-weight="bold" fill="#111" stroke="#111" stroke-width="0.1" style="">11</text>
<line x1="158.08" y1="448.40" x2="158.08" y2="450.40" stroke="#111" stroke-width="0.8" />
<text x="158.08" y="454.80" font-size="3.9" text-anchor="middle" font-weight="bold" fill="#111" stroke="#111" stroke-width="0.1" style="">12</text>
<text x="92.84" y="461.25" font-size="4.3" text-anchor="middle" font-weight="bold" fill="#111"  style="">dpi</text>
<text x="15.00" y="411.79" font-size="5.4" text-anchor="middle" font-weight="bold" fill="#2a2a2a" transform="rotate(-90 15.00 409.85)"  style="">% Initial Body Weight</text>
<line x1="28.60" y1="370.20" x2="28.60" y2="448.90" stroke="#3a3a3a" stroke-width="1.25" />
<line x1="28.10" y1="448.40" x2="158.48" y2="448.40" stroke="#3a3a3a" stroke-width="1.25" />
<polyline points="28.60,396.60 39.39,392.46 50.18,402.95 60.97,412.40 71.76,411.10 82.55,403.98 93.34,401.39 104.13,392.71 114.92,390.25 125.71,387.66 136.50,385.07" fill="none" stroke="#e4382e" stroke-width="0.85" stroke-linejoin="round"/>
<polyline points="28.60,396.60 39.39,394.01 50.18,404.76 60.97,413.69 71.76,413.18 82.55,405.54 93.34,406.05 104.13,397.12 114.92,393.75 125.71,390.25 136.50,389.48" fill="none" stroke="#e4382e" stroke-width="0.85" stroke-linejoin="round"/>
<polyline points="28.60,396.60 39.39,395.82 50.18,406.57 60.97,415.77 71.76,417.58 82.55,407.35 93.34,408.13 104.13,398.41 114.92,395.82 125.71,391.94 136.50,393.75" fill="none" stroke="#e4382e" stroke-width="0.85" stroke-linejoin="round"/>
<polyline points="28.60,396.60 39.39,398.41 50.18,409.42 60.97,418.36 71.76,421.33 82.55,406.31 93.34,409.94 104.13,400.49 114.92,398.41 125.71,393.23 136.50,395.31" fill="none" stroke="#e4382e" stroke-width="0.85" stroke-linejoin="round"/>
<polyline points="28.60,396.60 39.39,395.05 50.18,407.61 60.97,416.67 71.76,415.38 82.55,405.66 93.34,407.61 104.13,399.19 114.92,395.05 125.71,391.42 136.50,389.48" fill="none" stroke="#e4382e" stroke-width="0.85" stroke-linejoin="round"/>
<polygon points="28.60,394.55 30.55,398.55 26.65,398.55" fill="#e4382e"/>
<polygon points="39.39,390.41 41.34,394.40 37.44,394.40" fill="#e4382e"/>
<polygon points="50.18,400.90 52.13,404.89 48.23,404.89" fill="#e4382e"/>
<polygon points="60.97,410.35 62.92,414.34 59.02,414.34" fill="#e4382e"/>
<polygon points="71.76,409.06 73.71,413.05 69.81,413.05" fill="#e4382e"/>
<polygon points="82.55,401.93 84.50,405.93 80.60,405.93" fill="#e4382e"/>
<polygon points="93.34,399.34 95.29,403.34 91.39,403.34" fill="#e4382e"/>
<polygon points="104.13,390.67 106.08,394.66 102.18,394.66" fill="#e4382e"/>
<polygon points="114.92,388.21 116.87,392.20 112.97,392.20" fill="#e4382e"/>
<polygon points="125.71,385.62 127.66,389.61 123.76,389.61" fill="#e4382e"/>
<polygon points="136.50,383.03 138.45,387.02 134.55,387.02" fill="#e4382e"/>
<polygon points="28.60,394.55 30.55,398.55 26.65,398.55" fill="#e4382e"/>
<polygon points="39.39,391.96 41.34,395.96 37.44,395.96" fill="#e4382e"/>
<polygon points="50.18,402.71 52.13,406.70 48.23,406.70" fill="#e4382e"/>
<polygon points="60.97,411.65 62.92,415.64 59.02,415.64" fill="#e4382e"/>
<polygon points="71.76,411.13 73.71,415.12 69.81,415.12" fill="#e4382e"/>
<polygon points="82.55,403.49 84.50,407.48 80.60,407.48" fill="#e4382e"/>
<polygon points="93.34,404.01 95.29,408.00 91.39,408.00" fill="#e4382e"/>
<polygon points="104.13,395.07 106.08,399.06 102.18,399.06" fill="#e4382e"/>
<polygon points="114.92,391.70 116.87,395.70 112.97,395.70" fill="#e4382e"/>
<polygon points="125.71,388.21 127.66,392.20 123.76,392.20" fill="#e4382e"/>
<polygon points="136.50,387.43 138.45,391.42 134.55,391.42" fill="#e4382e"/>
<polygon points="28.60,394.55 30.55,398.55 26.65,398.55" fill="#e4382e"/>
<polygon points="39.39,393.78 41.34,397.77 37.44,397.77" fill="#e4382e"/>
<polygon points="50.18,404.52 52.13,408.52 48.23,408.52" fill="#e4382e"/>
<polygon points="60.97,413.72 62.92,417.71 59.02,417.71" fill="#e4382e"/>
<polygon points="71.76,415.53 73.71,419.52 69.81,419.52" fill="#e4382e"/>
<polygon points="82.55,405.30 84.50,409.29 80.60,409.29" fill="#e4382e"/>
<polygon points="93.34,406.08 95.29,410.07 91.39,410.07" fill="#e4382e"/>
<polygon points="104.13,396.37 106.08,400.36 102.18,400.36" fill="#e4382e"/>
<polygon points="114.92,393.78 116.87,397.77 112.97,397.77" fill="#e4382e"/>
<polygon points="125.71,389.89 127.66,393.88 123.76,393.88" fill="#e4382e"/>
<polygon points="136.50,391.70 138.45,395.70 134.55,395.70" fill="#e4382e"/>
<polygon points="28.60,394.55 30.55,398.55 26.65,398.55" fill="#e4382e"/>
<polygon points="39.39,396.37 41.34,400.36 37.44,400.36" fill="#e4382e"/>
<polygon points="50.18,407.37 52.13,411.37 48.23,411.37" fill="#e4382e"/>
<polygon points="60.97,416.31 62.92,420.30 59.02,420.30" fill="#e4382e"/>
<polygon points="71.76,419.29 73.71,423.28 69.81,423.28" fill="#e4382e"/>
<polygon points="82.55,404.26 84.50,408.26 80.60,408.26" fill="#e4382e"/>
<polygon points="93.34,407.89 95.29,411.88 91.39,411.88" fill="#e4382e"/>
<polygon points="104.13,398.44 106.08,402.43 102.18,402.43" fill="#e4382e"/>
<polygon points="114.92,396.37 116.87,400.36 112.97,400.36" fill="#e4382e"/>
<polygon points="125.71,391.19 127.66,395.18 123.76,395.18" fill="#e4382e"/>
<polygon points="136.50,393.26 138.45,397.25 134.55,397.25" fill="#e4382e"/>
<polygon points="28.60,394.55 30.55,398.55 26.65,398.55" fill="#e4382e"/>
<polygon points="39.39,393.00 41.34,396.99 37.44,396.99" fill="#e4382e"/>
<polygon points="50.18,405.56 52.13,409.55 48.23,409.55" fill="#e4382e"/>
<polygon points="60.97,414.62 62.92,418.62 59.02,418.62" fill="#e4382e"/>
<polygon points="71.76,413.33 73.71,417.32 69.81,417.32" fill="#e4382e"/>
<polygon points="82.55,403.62 84.50,407.61 80.60,407.61" fill="#e4382e"/>
<polygon points="93.34,405.56 95.29,409.55 91.39,409.55" fill="#e4382e"/>
<polygon points="104.13,397.14 106.08,401.14 102.18,401.14" fill="#e4382e"/>
<polygon points="114.92,393.00 116.87,396.99 112.97,396.99" fill="#e4382e"/>
<polygon points="125.71,389.37 127.66,393.37 123.76,393.37" fill="#e4382e"/>
<polygon points="136.50,387.43 138.45,391.42 134.55,391.42" fill="#e4382e"/>
<text x="266.80" y="364.22" font-size="6.45" text-anchor="middle" font-weight="bold" fill="#111" stroke="#111" stroke-width="0.12" style="">1122A11-LALAPG 2 mg/kg</text>
<line x1="201.00" y1="448.40" x2="203.20" y2="448.40" stroke="#111" stroke-width="0.8" />
<text x="200.70" y="449.80" font-size="3.9" text-anchor="end" font-weight="bold" fill="#111" stroke="#111" stroke-width="0.1" style="">60</text>
<line x1="201.00" y1="435.40" x2="203.20" y2="435.40" stroke="#111" stroke-width="0.8" />
<text x="200.70" y="436.80" font-size="3.9" text-anchor="end" font-weight="bold" fill="#111" stroke="#111" stroke-width="0.1" style="">70</text>
<line x1="201.00" y1="422.40" x2="203.20" y2="422.40" stroke="#111" stroke-width="0.8" />
<text x="200.70" y="423.80" font-size="3.9" text-anchor="end" font-weight="bold" fill="#111" stroke="#111" stroke-width="0.1" style="">80</text>
<line x1="201.00" y1="409.40" x2="203.20" y2="409.40" stroke="#111" stroke-width="0.8" />
<text x="200.70" y="410.80" font-size="3.9" text-anchor="end" font-weight="bold" fill="#111" stroke="#111" stroke-width="0.1" style="">90</text>
<line x1="201.00" y1="396.40" x2="203.20" y2="396.40" stroke="#111" stroke-width="0.8" />
<text x="200.70" y="397.80" font-size="3.9" text-anchor="end" font-weight="bold" fill="#111" stroke="#111" stroke-width="0.1" style="">100</text>
<line x1="201.00" y1="383.40" x2="203.20" y2="383.40" stroke="#111" stroke-width="0.8" />
<text x="200.70" y="384.80" font-size="3.9" text-anchor="end" font-weight="bold" fill="#111" stroke="#111" stroke-width="0.1" style="">110</text>
<line x1="201.00" y1="370.40" x2="203.20" y2="370.40" stroke="#111" stroke-width="0.8" />
<text x="200.70" y="371.80" font-size="3.9" text-anchor="end" font-weight="bold" fill="#111" stroke="#111" stroke-width="0.1" style="">120</text>
<line x1="203.20" y1="448.40" x2="203.20" y2="450.40" stroke="#111" stroke-width="0.8" />
<text x="203.20" y="454.80" font-size="3.9" text-anchor="middle" font-weight="bold" fill="#111" stroke="#111" stroke-width="0.1" style="">0</text>
<line x1="213.99" y1="448.40" x2="213.99" y2="450.40" stroke="#111" stroke-width="0.8" />
<text x="213.99" y="454.80" font-size="3.9" text-anchor="middle" font-weight="bold" fill="#111" stroke="#111" stroke-width="0.1" style="">1</text>
<line x1="224.78" y1="448.40" x2="224.78" y2="450.40" stroke="#111" stroke-width="0.8" />
<text x="224.78" y="454.80" font-size="3.9" text-anchor="middle" font-weight="bold" fill="#111" stroke="#111" stroke-width="0.1" style="">2</text>
<line x1="235.57" y1="448.40" x2="235.57" y2="450.40" stroke="#111" stroke-width="0.8" />
<text x="235.57" y="454.80" font-size="3.9" text-anchor="middle" font-weight="bold" fill="#111" stroke="#111" stroke-width="0.1" style="">3</text>
<line x1="246.36" y1="448.40" x2="246.36" y2="450.40" stroke="#111" stroke-width="0.8" />
<text x="246.36" y="454.80" font-size="3.9" text-anchor="middle" font-weight="bold" fill="#111" stroke="#111" stroke-width="0.1" style="">4</text>
<line x1="257.15" y1="448.40" x2="257.15" y2="450.40" stroke="#111" stroke-width="0.8" />
<text x="257.15" y="454.80" font-size="3.9" text-anchor="middle" font-weight="bold" fill="#111" stroke="#111" stroke-width="0.1" style="">5</text>
<line x1="267.94" y1="448.40" x2="267.94" y2="450.40" stroke="#111" stroke-width="0.8" />
<text x="267.94" y="454.80" font-size="3.9" text-anchor="middle" font-weight="bold" fill="#111" stroke="#111" stroke-width="0.1" style="">6</text>
<line x1="278.73" y1="448.40" x2="278.73" y2="450.40" stroke="#111" stroke-width="0.8" />
<text x="278.73" y="454.80" font-size="3.9" text-anchor="middle" font-weight="bold" fill="#111" stroke="#111" stroke-width="0.1" style="">7</text>
<line x1="289.52" y1="448.40" x2="289.52" y2="450.40" stroke="#111" stroke-width="0.8" />
<text x="289.52" y="454.80" font-size="3.9" text-anchor="middle" font-weight="bold" fill="#111" stroke="#111" stroke-width="0.1" style="">8</text>
<line x1="300.31" y1="448.40" x2="300.31" y2="450.40" stroke="#111" stroke-width="0.8" />
<text x="300.31" y="454.80" font-size="3.9" text-anchor="middle" font-weight="bold" fill="#111" stroke="#111" stroke-width="0.1" style="">9</text>
<line x1="311.10" y1="448.40" x2="311.10" y2="450.40" stroke="#111" stroke-width="0.8" />
<text x="311.10" y="454.80" font-size="3.9" text-anchor="middle" font-weight="bold" fill="#111" stroke="#111" stroke-width="0.1" style="">10</text>
<line x1="321.89" y1="448.40" x2="321.89" y2="450.40" stroke="#111" stroke-width="0.8" />
<text x="321.89" y="454.80" font-size="3.9" text-anchor="middle" font-weight="bold" fill="#111" stroke="#111" stroke-width="0.1" style="">11</text>
<line x1="332.68" y1="448.40" x2="332.68" y2="450.40" stroke="#111" stroke-width="0.8" />
<text x="332.68" y="454.80" font-size="3.9" text-anchor="middle" font-weight="bold" fill="#111" stroke="#111" stroke-width="0.1" style="">12</text>
<text x="267.44" y="461.25" font-size="4.3" text-anchor="middle" font-weight="bold" fill="#111"  style="">dpi</text>
<text x="189.60" y="411.64" font-size="5.4" text-anchor="middle" font-weight="bold" fill="#2a2a2a" transform="rotate(-90 189.60 409.70)"  style="">% Initial Body Weight</text>
<line x1="203.20" y1="369.90" x2="203.20" y2="448.90" stroke="#3a3a3a" stroke-width="1.25" />
<line x1="202.70" y1="448.40" x2="333.08" y2="448.40" stroke="#3a3a3a" stroke-width="1.25" />
<polyline points="203.20,396.40 213.99,394.06 224.78,405.11 235.57,412.00 246.36,412.65 257.15,411.48 267.94,412.65 278.73,404.33 289.52,402.51 300.31,395.62 311.10,394.84" fill="none" stroke="#e4382e" stroke-width="0.85" stroke-dasharray="1.6,1.0" stroke-linejoin="round"/>
<polyline points="203.20,396.40 213.99,395.62 224.78,406.80 235.57,413.95 246.36,416.03 257.15,414.47 267.94,415.25 278.73,408.36 289.52,405.11 300.31,398.22 311.10,396.14" fill="none" stroke="#e4382e" stroke-width="0.85" stroke-dasharray="1.6,1.0" stroke-linejoin="round"/>
<polyline points="203.20,396.40 213.99,396.92 224.78,408.88 235.57,416.03 246.36,418.63 257.15,417.07 267.94,417.85 278.73,410.18 289.52,406.80 300.31,401.21 311.10,399.91" fill="none" stroke="#e4382e" stroke-width="0.85" stroke-dasharray="1.6,1.0" stroke-linejoin="round"/>
<polyline points="203.20,396.40 213.99,398.22 224.78,408.36 235.57,418.63 246.36,422.14 257.15,419.54 267.94,421.10 278.73,412.00 289.52,412.00 300.31,406.80 311.10,401.21" fill="none" stroke="#e4382e" stroke-width="0.85" stroke-dasharray="1.6,1.0" stroke-linejoin="round"/>
<polygon points="203.20,398.45 205.15,394.45 201.25,394.45" fill="#e4382e"/>
<polygon points="213.99,396.11 215.94,392.11 212.04,392.11" fill="#e4382e"/>
<polygon points="224.78,407.16 226.73,403.16 222.83,403.16" fill="#e4382e"/>
<polygon points="235.57,414.05 237.52,410.05 233.62,410.05" fill="#e4382e"/>
<polygon points="246.36,414.70 248.31,410.70 244.41,410.70" fill="#e4382e"/>
<polygon points="257.15,413.53 259.10,409.53 255.20,409.53" fill="#e4382e"/>
<polygon points="267.94,414.70 269.89,410.70 265.99,410.70" fill="#e4382e"/>
<polygon points="278.73,406.38 280.68,402.38 276.78,402.38" fill="#e4382e"/>
<polygon points="289.52,404.56 291.47,400.56 287.57,400.56" fill="#e4382e"/>
<polygon points="300.31,397.67 302.26,393.67 298.36,393.67" fill="#e4382e"/>
<polygon points="311.10,396.89 313.05,392.89 309.15,392.89" fill="#e4382e"/>
<polygon points="203.20,398.45 205.15,394.45 201.25,394.45" fill="#e4382e"/>
<polygon points="213.99,397.67 215.94,393.67 212.04,393.67" fill="#e4382e"/>
<polygon points="224.78,408.85 226.73,404.85 222.83,404.85" fill="#e4382e"/>
<polygon points="235.57,416.00 237.52,412.00 233.62,412.00" fill="#e4382e"/>
<polygon points="246.36,418.08 248.31,414.08 244.41,414.08" fill="#e4382e"/>
<polygon points="257.15,416.52 259.10,412.52 255.20,412.52" fill="#e4382e"/>
<polygon points="267.94,417.30 269.89,413.30 265.99,413.30" fill="#e4382e"/>
<polygon points="278.73,410.41 280.68,406.41 276.78,406.41" fill="#e4382e"/>
<polygon points="289.52,407.16 291.47,403.16 287.57,403.16" fill="#e4382e"/>
<polygon points="300.31,400.27 302.26,396.27 298.36,396.27" fill="#e4382e"/>
<polygon points="311.10,398.19 313.05,394.19 309.15,394.19" fill="#e4382e"/>
<polygon points="203.20,398.45 205.15,394.45 201.25,394.45" fill="#e4382e"/>
<polygon points="213.99,398.97 215.94,394.97 212.04,394.97" fill="#e4382e"/>
<polygon points="224.78,410.93 226.73,406.93 222.83,406.93" fill="#e4382e"/>
<polygon points="235.57,418.08 237.52,414.08 233.62,414.08" fill="#e4382e"/>
<polygon points="246.36,420.68 248.31,416.68 244.41,416.68" fill="#e4382e"/>
<polygon points="257.15,419.12 259.10,415.12 255.20,415.12" fill="#e4382e"/>
<polygon points="267.94,419.90 269.89,415.90 265.99,415.90" fill="#e4382e"/>
<polygon points="278.73,412.23 280.68,408.23 276.78,408.23" fill="#e4382e"/>
<polygon points="289.52,408.85 291.47,404.85 287.57,404.85" fill="#e4382e"/>
<polygon points="300.31,403.26 302.26,399.26 298.36,399.26" fill="#e4382e"/>
<polygon points="311.10,401.96 313.05,397.96 309.15,397.96" fill="#e4382e"/>
<polygon points="203.20,398.45 205.15,394.45 201.25,394.45" fill="#e4382e"/>
<polygon points="213.99,400.27 215.94,396.27 212.04,396.27" fill="#e4382e"/>
<polygon points="224.78,410.41 226.73,406.41 222.83,406.41" fill="#e4382e"/>
<polygon points="235.57,420.68 237.52,416.68 233.62,416.68" fill="#e4382e"/>
<polygon points="246.36,424.19 248.31,420.19 244.41,420.19" fill="#e4382e"/>
<polygon points="257.15,421.59 259.10,417.59 255.20,417.59" fill="#e4382e"/>
<polygon points="267.94,423.15 269.89,419.15 265.99,419.15" fill="#e4382e"/>
<polygon points="278.73,414.05 280.68,410.05 276.78,410.05" fill="#e4382e"/>
<polygon points="289.52,414.05 291.47,410.05 287.57,410.05" fill="#e4382e"/>
<polygon points="300.31,408.85 302.26,404.85 298.36,404.85" fill="#e4382e"/>
<polygon points="311.10,403.26 313.05,399.26 309.15,399.26" fill="#e4382e"/>
<text x="442.20" y="364.22" font-size="6.45" text-anchor="middle" font-weight="bold" fill="#111" stroke="#111" stroke-width="0.12" style="">Mock treated, virus infected</text>
<line x1="375.60" y1="448.40" x2="377.80" y2="448.40" stroke="#111" stroke-width="0.8" />
<text x="375.30" y="449.80" font-size="3.9" text-anchor="end" font-weight="bold" fill="#111" stroke="#111" stroke-width="0.1" style="">60</text>
<line x1="375.60" y1="435.33" x2="377.80" y2="435.33" stroke="#111" stroke-width="0.8" />
<text x="375.30" y="436.74" font-size="3.9" text-anchor="end" font-weight="bold" fill="#111" stroke="#111" stroke-width="0.1" style="">70</text>
<line x1="375.60" y1="422.27" x2="377.80" y2="422.27" stroke="#111" stroke-width="0.8" />
<text x="375.30" y="423.67" font-size="3.9" text-anchor="end" font-weight="bold" fill="#111" stroke="#111" stroke-width="0.1" style="">80</text>
<line x1="375.60" y1="409.20" x2="377.80" y2="409.20" stroke="#111" stroke-width="0.8" />
<text x="375.30" y="410.60" font-size="3.9" text-anchor="end" font-weight="bold" fill="#111" stroke="#111" stroke-width="0.1" style="">90</text>
<line x1="375.60" y1="396.13" x2="377.80" y2="396.13" stroke="#111" stroke-width="0.8" />
<text x="375.30" y="397.54" font-size="3.9" text-anchor="end" font-weight="bold" fill="#111" stroke="#111" stroke-width="0.1" style="">100</text>
<line x1="375.60" y1="383.07" x2="377.80" y2="383.07" stroke="#111" stroke-width="0.8" />
<text x="375.30" y="384.47" font-size="3.9" text-anchor="end" font-weight="bold" fill="#111" stroke="#111" stroke-width="0.1" style="">110</text>
<line x1="375.60" y1="370.00" x2="377.80" y2="370.00" stroke="#111" stroke-width="0.8" />
<text x="375.30" y="371.40" font-size="3.9" text-anchor="end" font-weight="bold" fill="#111" stroke="#111" stroke-width="0.1" style="">120</text>
<line x1="377.80" y1="448.40" x2="377.80" y2="450.40" stroke="#111" stroke-width="0.8" />
<text x="377.80" y="454.80" font-size="3.9" text-anchor="middle" font-weight="bold" fill="#111" stroke="#111" stroke-width="0.1" style="">0</text>
<line x1="388.59" y1="448.40" x2="388.59" y2="450.40" stroke="#111" stroke-width="0.8" />
<text x="388.59" y="454.80" font-size="3.9" text-anchor="middle" font-weight="bold" fill="#111" stroke="#111" stroke-width="0.1" style="">1</text>
<line x1="399.38" y1="448.40" x2="399.38" y2="450.40" stroke="#111" stroke-width="0.8" />
<text x="399.38" y="454.80" font-size="3.9" text-anchor="middle" font-weight="bold" fill="#111" stroke="#111" stroke-width="0.1" style="">2</text>
<line x1="410.17" y1="448.40" x2="410.17" y2="450.40" stroke="#111" stroke-width="0.8" />
<text x="410.17" y="454.80" font-size="3.9" text-anchor="middle" font-weight="bold" fill="#111" stroke="#111" stroke-width="0.1" style="">3</text>
<line x1="420.96" y1="448.40" x2="420.96" y2="450.40" stroke="#111" stroke-width="0.8" />
<text x="420.96" y="454.80" font-size="3.9" text-anchor="middle" font-weight="bold" fill="#111" stroke="#111" stroke-width="0.1" style="">4</text>
<line x1="431.75" y1="448.40" x2="431.75" y2="450.40" stroke="#111" stroke-width="0.8" />
<text x="431.75" y="454.80" font-size="3.9" text-anchor="middle" font-weight="bold" fill="#111" stroke="#111" stroke-width="0.1" style="">5</text>
<line x1="442.54" y1="448.40" x2="442.54" y2="450.40" stroke="#111" stroke-width="0.8" />
<text x="442.54" y="454.80" font-size="3.9" text-anchor="middle" font-weight="bold" fill="#111" stroke="#111" stroke-width="0.1" style="">6</text>
<line x1="453.33" y1="448.40" x2="453.33" y2="450.40" stroke="#111" stroke-width="0.8" />
<text x="453.33" y="454.80" font-size="3.9" text-anchor="middle" font-weight="bold" fill="#111" stroke="#111" stroke-width="0.1" style="">7</text>
<line x1="464.12" y1="448.40" x2="464.12" y2="450.40" stroke="#111" stroke-width="0.8" />
<text x="464.12" y="454.80" font-size="3.9" text-anchor="middle" font-weight="bold" fill="#111" stroke="#111" stroke-width="0.1" style="">8</text>
<line x1="474.91" y1="448.40" x2="474.91" y2="450.40" stroke="#111" stroke-width="0.8" />
<text x="474.91" y="454.80" font-size="3.9" text-anchor="middle" font-weight="bold" fill="#111" stroke="#111" stroke-width="0.1" style="">9</text>
<line x1="485.70" y1="448.40" x2="485.70" y2="450.40" stroke="#111" stroke-width="0.8" />
<text x="485.70" y="454.80" font-size="3.9" text-anchor="middle" font-weight="bold" fill="#111" stroke="#111" stroke-width="0.1" style="">10</text>
<line x1="496.49" y1="448.40" x2="496.49" y2="450.40" stroke="#111" stroke-width="0.8" />
<text x="496.49" y="454.80" font-size="3.9" text-anchor="middle" font-weight="bold" fill="#111" stroke="#111" stroke-width="0.1" style="">11</text>
<line x1="507.28" y1="448.40" x2="507.28" y2="450.40" stroke="#111" stroke-width="0.8" />
<text x="507.28" y="454.80" font-size="3.9" text-anchor="middle" font-weight="bold" fill="#111" stroke="#111" stroke-width="0.1" style="">12</text>
<text x="442.04" y="461.25" font-size="4.3" text-anchor="middle" font-weight="bold" fill="#111"  style="">dpi</text>
<text x="364.20" y="411.44" font-size="5.4" text-anchor="middle" font-weight="bold" fill="#2a2a2a" transform="rotate(-90 364.20 409.50)"  style="">% Initial Body Weight</text>
<line x1="377.80" y1="369.50" x2="377.80" y2="448.90" stroke="#3a3a3a" stroke-width="1.25" />
<line x1="377.30" y1="448.40" x2="507.68" y2="448.40" stroke="#3a3a3a" stroke-width="1.25" />
<polyline points="377.80,396.13 388.59,394.30 399.38,402.80 410.17,406.33 420.96,414.03 431.75,429.45" fill="none" stroke="#111" stroke-width="0.85" stroke-linejoin="round"/>
<polyline points="377.80,396.13 388.59,396.13 399.38,406.33 410.17,412.99 420.96,420.70 431.75,431.02" fill="none" stroke="#111" stroke-width="0.85" stroke-linejoin="round"/>
<polyline points="377.80,396.13 388.59,397.70 399.38,411.03 410.17,419.91 420.96,424.36 431.75,432.07" fill="none" stroke="#111" stroke-width="0.85" stroke-linejoin="round"/>
<polyline points="377.80,396.13 388.59,402.01 399.38,412.99 410.17,421.22 420.96,426.32 431.75,436.64" fill="none" stroke="#111" stroke-width="0.85" stroke-linejoin="round"/>
<polyline points="377.80,396.13 388.59,403.32 399.38,414.82 410.17,420.96 420.96,427.62 431.75,432.72" fill="none" stroke="#111" stroke-width="0.85" stroke-linejoin="round"/>
<circle cx="377.80" cy="396.13" r="1.80" fill="#111"/>
<circle cx="388.59" cy="394.30" r="1.80" fill="#111"/>
<circle cx="399.38" cy="402.80" r="1.80" fill="#111"/>
<circle cx="410.17" cy="406.33" r="1.80" fill="#111"/>
<circle cx="420.96" cy="414.03" r="1.80" fill="#111"/>
<circle cx="431.75" cy="429.45" r="1.80" fill="#111"/>
<circle cx="377.80" cy="396.13" r="1.80" fill="#111"/>
<circle cx="388.59" cy="396.13" r="1.80" fill="#111"/>
<circle cx="399.38" cy="406.33" r="1.80" fill="#111"/>
<circle cx="410.17" cy="412.99" r="1.80" fill="#111"/>
<circle cx="420.96" cy="420.70" r="1.80" fill="#111"/>
<circle cx="431.75" cy="431.02" r="1.80" fill="#111"/>
<circle cx="377.80" cy="396.13" r="1.80" fill="#111"/>
<circle cx="388.59" cy="397.70" r="1.80" fill="#111"/>
<circle cx="399.38" cy="411.03" r="1.80" fill="#111"/>
<circle cx="410.17" cy="419.91" r="1.80" fill="#111"/>
<circle cx="420.96" cy="424.36" r="1.80" fill="#111"/>
<circle cx="431.75" cy="432.07" r="1.80" fill="#111"/>
<circle cx="377.80" cy="396.13" r="1.80" fill="#111"/>
<circle cx="388.59" cy="402.01" r="1.80" fill="#111"/>
<circle cx="399.38" cy="412.99" r="1.80" fill="#111"/>
<circle cx="410.17" cy="421.22" r="1.80" fill="#111"/>
<circle cx="420.96" cy="426.32" r="1.80" fill="#111"/>
<circle cx="431.75" cy="436.64" r="1.80" fill="#111"/>
<circle cx="377.80" cy="396.13" r="1.80" fill="#111"/>
<circle cx="388.59" cy="403.32" r="1.80" fill="#111"/>
<circle cx="399.38" cy="414.82" r="1.80" fill="#111"/>
<circle cx="410.17" cy="420.96" r="1.80" fill="#111"/>
<circle cx="420.96" cy="427.62" r="1.80" fill="#111"/>
<circle cx="431.75" cy="432.72" r="1.80" fill="#111"/>
<line x1="206.20" y1="540.50" x2="206.20" y2="711.80" stroke="#111" stroke-width="2.0" />
<line x1="200.50" y1="710.80" x2="488.80" y2="710.80" stroke="#111" stroke-width="2.0" />
<line x1="200.50" y1="710.80" x2="206.20" y2="710.80" stroke="#111" stroke-width="1.8" />
<text x="198.5" y="714.80" font-size="9.8" text-anchor="end" font-weight="bold" fill="#111">10<tspan font-size="6.9" dy="-4.2">0</tspan></text>
<line x1="200.50" y1="682.50" x2="206.20" y2="682.50" stroke="#111" stroke-width="1.8" />
<text x="198.5" y="686.50" font-size="9.8" text-anchor="end" font-weight="bold" fill="#111">10<tspan font-size="6.9" dy="-4.2">1</tspan></text>
<line x1="200.50" y1="654.20" x2="206.20" y2="654.20" stroke="#111" stroke-width="1.8" />
<text x="198.5" y="658.20" font-size="9.8" text-anchor="end" font-weight="bold" fill="#111">10<tspan font-size="6.9" dy="-4.2">2</tspan></text>
<line x1="200.50" y1="625.90" x2="206.20" y2="625.90" stroke="#111" stroke-width="1.8" />
<text x="198.5" y="629.90" font-size="9.8" text-anchor="end" font-weight="bold" fill="#111">10<tspan font-size="6.9" dy="-4.2">3</tspan></text>
<line x1="200.50" y1="597.60" x2="206.20" y2="597.60" stroke="#111" stroke-width="1.8" />
<text x="198.5" y="601.60" font-size="9.8" text-anchor="end" font-weight="bold" fill="#111">10<tspan font-size="6.9" dy="-4.2">4</tspan></text>
<line x1="200.50" y1="569.30" x2="206.20" y2="569.30" stroke="#111" stroke-width="1.8" />
<text x="198.5" y="573.30" font-size="9.8" text-anchor="end" font-weight="bold" fill="#111">10<tspan font-size="6.9" dy="-4.2">5</tspan></text>
<line x1="200.50" y1="541.00" x2="206.20" y2="541.00" stroke="#111" stroke-width="1.8" />
<text x="198.5" y="545.00" font-size="9.8" text-anchor="end" font-weight="bold" fill="#111">10<tspan font-size="6.9" dy="-4.2">6</tspan></text>
<line x1="274.60" y1="710.80" x2="274.60" y2="715.80" stroke="#111" stroke-width="1.8" />
<line x1="420.60" y1="710.80" x2="420.60" y2="715.80" stroke="#111" stroke-width="1.8" />
<text x="274.60" y="726.14" font-size="10.1" text-anchor="middle" font-weight="bold" fill="#111"  style="">Day2</text>
<text x="420.00" y="726.14" font-size="10.1" text-anchor="middle" font-weight="bold" fill="#111"  style="">Day4</text>
<text x="347.80" y="748.23" font-size="12.3" text-anchor="middle" font-weight="bold" fill="#111"  style="">dpi</text>
<text x="178.8" y="622.2" font-size="11.0" text-anchor="middle" font-weight="bold" fill="#111" transform="rotate(-90 178.8 622.2)" textLength="111" lengthAdjust="spacingAndGlyphs" xml:space="preserve" stroke="#111" stroke-width="0.1">Virus titer  (PFU/mL)</text>
<line x1="209.10" y1="674.00" x2="491.30" y2="674.00" stroke="#4a4a4a" stroke-width="1.4" stroke-dasharray="4.1,1.6"/>
<text x="503.00" y="677.54" font-size="10.4" text-anchor="start" font-weight="bold" fill="#111" stroke="#111" stroke-width="0.15" textLength="20.60" lengthAdjust="spacingAndGlyphs" style="">LOD</text>
<line x1="212.00" y1="530.70" x2="283.40" y2="530.70" stroke="#111" stroke-width="1.8" />
<polyline points="248.0,530.7 248.0,507.5 304.0,507.5 304.0,544.5" fill="none" stroke="#111" stroke-width="1.8"/>
<text x="275.30" y="501.70" font-size="9.1" text-anchor="middle" fill="#111" stroke="#111" stroke-width="0.1"><tspan font-style="italic">p</tspan> &lt; 0.0001</text>
<polyline points="237.30,559.40 237.30,553.20 283.50,553.20 283.50,559.40" fill="none" stroke="#111" stroke-width="1.7"/>
<text x="260.10" y="547.70" font-size="9.1" text-anchor="middle" fill="#111" stroke="#111" stroke-width="0.1"><tspan font-style="italic">p</tspan> = 0.7464</text>
<polyline points="216.80,582.70 216.80,576.70 263.00,576.70 263.00,582.70" fill="none" stroke="#111" stroke-width="1.7"/>
<text x="240.20" y="570.90" font-size="9.1" text-anchor="middle" fill="#111" stroke="#111" stroke-width="0.1"><tspan font-style="italic">p</tspan> = 0.8655</text>
<line x1="360.00" y1="566.80" x2="431.20" y2="566.80" stroke="#111" stroke-width="1.8" />
<polyline points="395.4,566.8 395.4,543.3 451.8,543.3 451.8,580.6" fill="none" stroke="#111" stroke-width="1.8"/>
<text x="423.10" y="537.90" font-size="9.1" text-anchor="middle" fill="#111" stroke="#111" stroke-width="0.1"><tspan font-style="italic">p</tspan> &lt; 0.0001</text>
<polyline points="382.10,599.30 382.10,593.00 427.90,593.00 427.90,599.30" fill="none" stroke="#111" stroke-width="1.7"/>
<text x="405.60" y="586.90" font-size="9.1" text-anchor="middle" fill="#111" stroke="#111" stroke-width="0.1"><tspan font-style="italic">p</tspan> = 0.9999</text>
<polyline points="364.30,624.30 364.30,618.10 410.60,618.10 410.60,624.30" fill="none" stroke="#111" stroke-width="1.7"/>
<text x="387.40" y="612.30" font-size="9.1" text-anchor="middle" fill="#111" stroke="#111" stroke-width="0.1"><tspan font-style="italic">p</tspan> = 0.9902</text>
<line x1="213.10" y1="620.20" x2="227.60" y2="620.20" stroke="#111" stroke-width="1.1" />
<circle cx="220.50" cy="608.80" r="3.30" fill="#4a5ab8"/>
<circle cx="220.50" cy="617.30" r="3.30" fill="#4a5ab8"/>
<circle cx="216.50" cy="628.80" r="3.30" fill="#4a5ab8"/>
<circle cx="224.40" cy="625.70" r="3.30" fill="#4a5ab8"/>
<line x1="234.90" y1="604.90" x2="249.40" y2="604.90" stroke="#111" stroke-width="1.1" />
<rect x="237.90" y="600.70" width="7.00" height="7.00" fill="#4a5ab8"/>
<rect x="242.40" y="600.70" width="7.00" height="7.00" fill="#4a5ab8"/>
<rect x="234.90" y="605.10" width="7.00" height="7.00" fill="#4a5ab8"/>
<rect x="234.90" y="605.10" width="7.00" height="7.00" fill="#4a5ab8"/>
<line x1="257.10" y1="602.30" x2="270.90" y2="602.30" stroke="#111" stroke-width="1.1" />
<polygon points="264.20,590.13 267.50,596.89 260.90,596.89" fill="#e0262c"/>
<polygon points="260.60,602.83 263.90,609.59 257.30,609.59" fill="#e0262c"/>
<polygon points="267.80,602.83 271.10,609.59 264.50,609.59" fill="#e0262c"/>
<polygon points="264.20,601.83 267.50,608.59 260.90,608.59" fill="#e0262c"/>
<line x1="278.60" y1="588.10" x2="292.70" y2="588.10" stroke="#111" stroke-width="1.1" />
<polygon points="282.10,586.65 285.20,580.31 279.00,580.31" fill="#e0262c"/>
<polygon points="282.10,594.86 285.20,588.51 279.00,588.51" fill="#e0262c"/>
<polygon points="286.50,591.05 289.60,584.71 283.40,584.71" fill="#e0262c"/>
<polygon points="289.60,592.05 292.70,585.71 286.50,585.71" fill="#e0262c"/>
<polygon points="303.50,560.20 306.60,563.30 303.50,566.40 300.40,563.30" fill="#2f8c3e"/>
<polygon points="307.60,561.50 310.70,564.60 307.60,567.70 304.50,564.60" fill="#2f8c3e"/>
<polygon points="311.40,566.10 314.50,569.20 311.40,572.30 308.30,569.20" fill="#2f8c3e"/>
<polygon points="303.70,568.90 306.80,572.00 303.70,575.10 300.60,572.00" fill="#2f8c3e"/>
<line x1="300.00" y1="567.40" x2="315.00" y2="567.40" stroke="#111" stroke-width="1.1" />
<circle cx="325.50" cy="566.80" r="3.35" fill="#111"/>
<circle cx="333.40" cy="566.80" r="3.35" fill="#111"/>
<circle cx="325.50" cy="575.40" r="3.35" fill="#111"/>
<circle cx="333.40" cy="575.40" r="3.35" fill="#111"/>
<line x1="322.00" y1="571.10" x2="336.70" y2="571.10" stroke="#fff" stroke-width="2.4" />
<line x1="322.00" y1="571.10" x2="336.70" y2="571.10" stroke="#111" stroke-width="1.1" />
<line x1="358.60" y1="670.70" x2="372.60" y2="670.70" stroke="#111" stroke-width="1.1" />
<circle cx="365.60" cy="660.20" r="3.30" fill="#4a5ab8"/>
<line x1="384.00" y1="656.80" x2="394.50" y2="656.80" stroke="#111" stroke-width="1.1" />
<rect x="380.50" y="650.90" width="7.00" height="7.00" fill="#4a5ab8"/>
<rect x="388.10" y="646.40" width="7.00" height="7.00" fill="#4a5ab8"/>
<rect x="388.10" y="653.40" width="7.00" height="7.00" fill="#4a5ab8"/>
<rect x="384.00" y="662.00" width="7.00" height="7.00" fill="#4a5ab8"/>
<line x1="402.00" y1="649.30" x2="416.60" y2="649.30" stroke="#111" stroke-width="1.1" />
<polygon points="405.50,634.03 408.90,640.99 402.10,640.99" fill="#e0262c"/>
<polygon points="413.40,634.03 416.80,640.99 410.00,640.99" fill="#e0262c"/>
<polygon points="409.40,645.03 412.80,651.99 406.00,651.99" fill="#e0262c"/>
<line x1="424.50" y1="631.40" x2="437.70" y2="631.40" stroke="#111" stroke-width="1.1" />
<polygon points="427.30,628.66 430.50,622.11 424.10,622.11" fill="#e0262c"/>
<polygon points="427.30,639.86 430.50,633.31 424.10,633.31" fill="#e0262c"/>
<polygon points="432.00,634.96 435.20,628.41 428.80,628.41" fill="#e0262c"/>
<polygon points="435.80,634.96 439.00,628.41 432.60,628.41" fill="#e0262c"/>
<polygon points="449.20,594.20 452.40,597.40 449.20,600.60 446.00,597.40" fill="#2f8c3e"/>
<polygon points="453.40,594.20 456.60,597.40 453.40,600.60 450.20,597.40" fill="#2f8c3e"/>
<polygon points="449.10,602.80 452.30,606.00 449.10,609.20 445.90,606.00" fill="#2f8c3e"/>
<polygon points="456.70,600.70 459.90,603.90 456.70,607.10 453.50,603.90" fill="#2f8c3e"/>
<line x1="445.80" y1="601.20" x2="459.90" y2="601.20" stroke="#111" stroke-width="1.1" />
<line x1="467.40" y1="599.60" x2="476.00" y2="599.60" stroke="#111" stroke-width="1.1" />
<circle cx="473.20" cy="596.70" r="3.35" fill="#111"/>
<circle cx="478.70" cy="596.70" r="3.35" fill="#111"/>
<circle cx="476.50" cy="599.60" r="3.35" fill="#111"/>
<circle cx="470.70" cy="603.80" r="3.35" fill="#111"/>
<text x="366.80" y="703.32" font-size="10.6" text-anchor="middle" font-weight="bold" fill="#4a5ab8" stroke="#4a5ab8" stroke-width="0.25" style="">&amp;</text>
<text x="410.90" y="702.44" font-size="11.5" text-anchor="middle" font-weight="bold" fill="#e0262c" stroke="#e0262c" stroke-width="0.45" style="">α</text>
<circle cx="140.90" cy="772.80" r="3.10" fill="#4a5ab8"/>
<text x="153.70" y="775.97" font-size="8.8" text-anchor="start" font-weight="bold" fill="#111"  style="">1122A11 20 mg/kg</text>
<rect x="276.50" y="769.70" width="6.20" height="6.20" fill="#4a5ab8"/>
<text x="292.40" y="775.97" font-size="8.8" text-anchor="start" font-weight="bold" fill="#111"  style="">1122A11 2 mg/kg</text>
<polygon points="412.30,769.44 415.50,775.99 409.10,775.99" fill="#e0262c"/>
<text x="425.10" y="775.97" font-size="8.8" text-anchor="start" font-weight="bold" fill="#111"  style="">1122A11-LALAPG 20 mg/kg</text>
<polygon points="140.90,791.56 144.10,785.01 137.70,785.01" fill="#e0262c"/>
<text x="153.70" y="791.37" font-size="8.8" text-anchor="start" font-weight="bold" fill="#111"  style="">1122A11-LALAPG 2 mg/kg</text>
<polygon points="279.60,785.50 282.30,788.20 279.60,790.90 276.90,788.20" fill="#2f8c3e"/>
<text x="292.40" y="791.37" font-size="8.8" text-anchor="start" font-weight="bold" fill="#111"  style="">Isotype Control 20 mg/kg</text>
<circle cx="412.30" cy="788.20" r="3.10" fill="#111"/>
<text x="425.10" y="791.37" font-size="8.8" text-anchor="start" font-weight="bold" fill="#111"  style="">Mock treated, virus infected</text>
</svg>
</body></html>
